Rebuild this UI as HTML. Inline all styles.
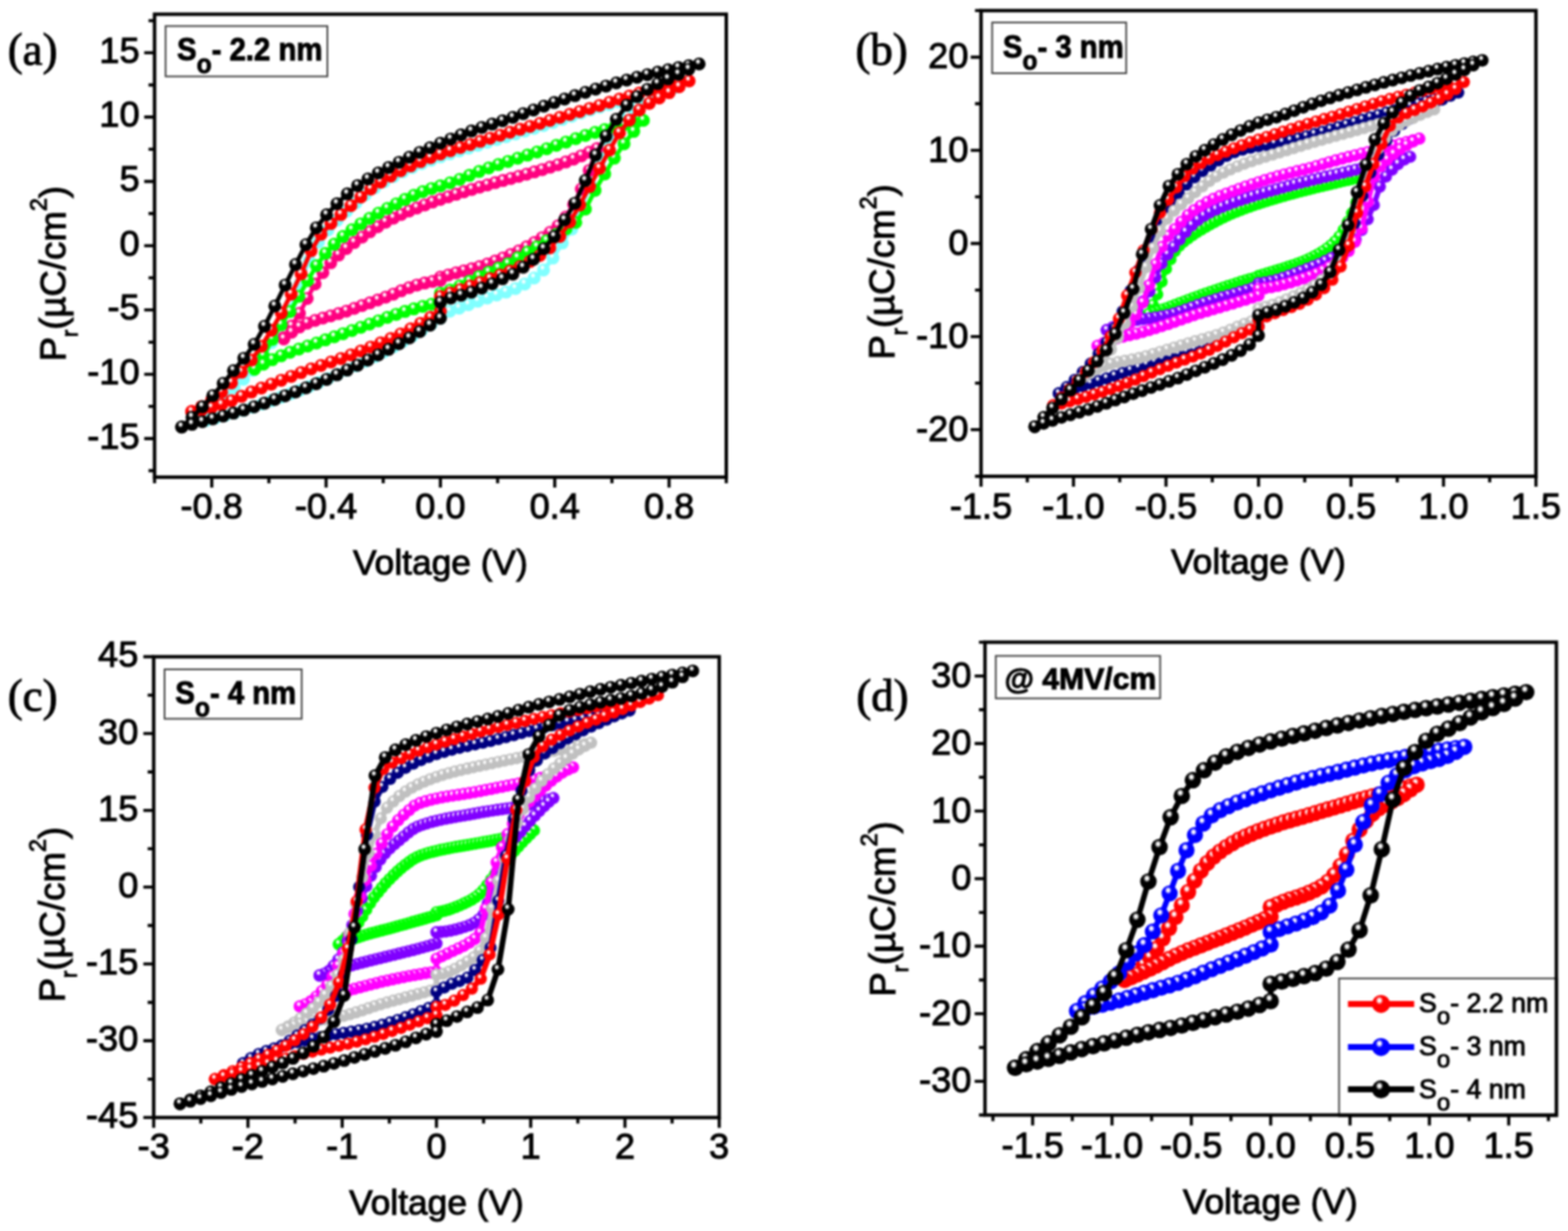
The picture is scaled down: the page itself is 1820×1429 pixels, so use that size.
<!DOCTYPE html><html><head><meta charset="utf-8"><title>P-V hysteresis loops</title><style>html,body{margin:0;padding:0;background:#fff;width:1820px;height:1429px;overflow:hidden}svg{display:block}text{stroke:#000;stroke-width:1.1px}#w{filter:blur(0.8px)}</style></head><body><div id="w"><svg xmlns="http://www.w3.org/2000/svg" width="1820" height="1429" viewBox="0 0 1820 1429"><defs><radialGradient id="hl"><stop offset="0" stop-color="#fff"/><stop offset="0.35" stop-color="#fff"/><stop offset="1" stop-color="#fff" stop-opacity="0"/></radialGradient><g id="m0"><circle r="7.5" fill="#80ffff"/><ellipse cx="-1.35" cy="-2.85" rx="3.1" ry="3.41" fill="url(#hl)"/></g><g id="m1"><circle r="7.5" fill="#ff0080"/><ellipse cx="-1.35" cy="-2.85" rx="3.1" ry="3.41" fill="url(#hl)"/></g><g id="m2"><circle r="7.5" fill="#00ff00"/><ellipse cx="-1.35" cy="-2.85" rx="3.1" ry="3.41" fill="url(#hl)"/></g><g id="m3"><circle r="7.5" fill="#ff0000"/><ellipse cx="-1.35" cy="-2.85" rx="3.1" ry="3.41" fill="url(#hl)"/></g><g id="m4"><circle r="7.5" fill="#000000"/><ellipse cx="-1.35" cy="-2.85" rx="3.3" ry="3.63" fill="url(#hl)"/></g><g id="m5"><circle r="7.1" fill="#00ff00"/><ellipse cx="-1.28" cy="-2.70" rx="2.9" ry="3.19" fill="url(#hl)"/></g><g id="m6"><circle r="7.1" fill="#8000ff"/><ellipse cx="-1.28" cy="-2.70" rx="2.9" ry="3.19" fill="url(#hl)"/></g><g id="m7"><circle r="7.1" fill="#ff00ff"/><ellipse cx="-1.28" cy="-2.70" rx="2.9" ry="3.19" fill="url(#hl)"/></g><g id="m8"><circle r="7.1" fill="#000080"/><ellipse cx="-1.28" cy="-2.70" rx="2.9" ry="3.19" fill="url(#hl)"/></g><g id="m9"><circle r="7.1" fill="#c0c0c0"/><ellipse cx="-1.28" cy="-2.70" rx="2.9" ry="3.19" fill="url(#hl)"/></g><g id="m10"><circle r="7.1" fill="#ff0000"/><ellipse cx="-1.28" cy="-2.70" rx="2.9" ry="3.19" fill="url(#hl)"/></g><g id="m11"><circle r="7.4" fill="#000000"/><ellipse cx="-1.33" cy="-2.81" rx="3.2" ry="3.52" fill="url(#hl)"/></g><g id="m12"><circle r="9.4" fill="#ff0000"/><ellipse cx="-1.69" cy="-3.57" rx="4.0" ry="4.40" fill="url(#hl)"/></g><g id="m13"><circle r="9.4" fill="#0000ff"/><ellipse cx="-1.69" cy="-3.57" rx="4.0" ry="4.40" fill="url(#hl)"/></g><g id="m14"><circle r="9.6" fill="#000000"/><ellipse cx="-1.73" cy="-3.65" rx="4.2" ry="4.62" fill="url(#hl)"/></g><g id="m15"><circle r="10.5" fill="#ff0000"/><ellipse cx="-1.89" cy="-3.99" rx="4.4" ry="4.84" fill="url(#hl)"/></g><g id="m16"><circle r="10.5" fill="#0000ff"/><ellipse cx="-1.89" cy="-3.99" rx="4.4" ry="4.84" fill="url(#hl)"/></g><g id="m17"><circle r="10.5" fill="#000000"/><ellipse cx="-1.89" cy="-3.99" rx="4.4" ry="4.84" fill="url(#hl)"/></g></defs><rect width="1820" height="1429" fill="#fff"/><g style="font-family:'Liberation Sans',Arial,sans-serif;font-size:42px" fill="#000">
<polyline points="239.1,476.3 250.0,468.2 260.9,459.6 271.8,450.3 282.7,440.3 293.5,430.0 304.4,418.0 315.3,397.7 326.2,375.0 337.1,352.7 348.0,329.2 358.8,302.5 369.7,280.9 380.6,266.9 391.5,255.6 402.4,245.3 413.3,235.4 424.1,226.3 435.0,218.1 445.9,211.0 456.8,204.9 467.7,199.4 478.6,194.5 489.4,190.0 500.3,185.9 511.2,182.1 522.1,178.6 533.0,175.3 543.8,172.0 554.7,168.7 565.6,165.3 576.5,162.0 587.4,158.8 598.3,155.5 609.1,152.3 620.0,149.0 630.9,145.7 641.8,142.2 652.7,138.6 663.6,134.9 674.4,131.3 685.3,127.8 696.2,124.5 707.1,121.4 718.0,118.3 728.9,115.3 739.7,112.4 750.6,109.5 761.5,106.8 772.4,104.1 783.3,101.6 772.4,104.5 761.5,109.6 750.6,116.2 739.7,123.7 728.9,134.0 718.0,147.3 707.1,163.6 696.2,187.4 685.3,214.2 674.4,241.8 663.6,265.9 652.7,282.1 641.8,299.6 630.9,313.4 620.0,322.7 609.1,329.8 598.3,335.0 587.4,339.1 576.5,342.5 565.6,345.9 554.7,349.7 543.8,353.7 533.0,357.7 522.1,361.3 511.2,364.3 511.2,369.5 500.3,376.7 489.4,383.6 478.6,390.2 467.7,396.5 456.8,402.6 445.9,408.4 435.0,414.1 424.1,419.5 413.3,424.8 402.4,430.0 391.5,434.9 380.6,439.7 369.7,444.3 358.8,448.7 348.0,453.0 337.1,457.1 326.2,461.1 315.3,465.1 304.4,469.0 293.5,472.7 282.7,476.2 271.8,479.4 260.9,482.5 250.0,485.5 239.1,488.2" fill="none" stroke="#80ffff" stroke-width="5.0" stroke-linejoin="round"/>
<use href="#m0" x="239.1" y="476.3"/>
<use href="#m0" x="250.0" y="468.2"/>
<use href="#m0" x="260.9" y="459.6"/>
<use href="#m0" x="271.8" y="450.3"/>
<use href="#m0" x="282.7" y="440.3"/>
<use href="#m0" x="293.5" y="430.0"/>
<use href="#m0" x="304.4" y="418.0"/>
<use href="#m0" x="315.3" y="397.7"/>
<use href="#m0" x="326.2" y="375.0"/>
<use href="#m0" x="337.1" y="352.7"/>
<use href="#m0" x="348.0" y="329.2"/>
<use href="#m0" x="358.8" y="302.5"/>
<use href="#m0" x="369.7" y="280.9"/>
<use href="#m0" x="380.6" y="266.9"/>
<use href="#m0" x="391.5" y="255.6"/>
<use href="#m0" x="402.4" y="245.3"/>
<use href="#m0" x="413.3" y="235.4"/>
<use href="#m0" x="424.1" y="226.3"/>
<use href="#m0" x="435.0" y="218.1"/>
<use href="#m0" x="445.9" y="211.0"/>
<use href="#m0" x="456.8" y="204.9"/>
<use href="#m0" x="467.7" y="199.4"/>
<use href="#m0" x="478.6" y="194.5"/>
<use href="#m0" x="489.4" y="190.0"/>
<use href="#m0" x="500.3" y="185.9"/>
<use href="#m0" x="511.2" y="182.1"/>
<use href="#m0" x="522.1" y="178.6"/>
<use href="#m0" x="533.0" y="175.3"/>
<use href="#m0" x="543.8" y="172.0"/>
<use href="#m0" x="554.7" y="168.7"/>
<use href="#m0" x="565.6" y="165.3"/>
<use href="#m0" x="576.5" y="162.0"/>
<use href="#m0" x="587.4" y="158.8"/>
<use href="#m0" x="598.3" y="155.5"/>
<use href="#m0" x="609.1" y="152.3"/>
<use href="#m0" x="620.0" y="149.0"/>
<use href="#m0" x="630.9" y="145.7"/>
<use href="#m0" x="641.8" y="142.2"/>
<use href="#m0" x="652.7" y="138.6"/>
<use href="#m0" x="663.6" y="134.9"/>
<use href="#m0" x="674.4" y="131.3"/>
<use href="#m0" x="685.3" y="127.8"/>
<use href="#m0" x="696.2" y="124.5"/>
<use href="#m0" x="707.1" y="121.4"/>
<use href="#m0" x="718.0" y="118.3"/>
<use href="#m0" x="728.9" y="115.3"/>
<use href="#m0" x="739.7" y="112.4"/>
<use href="#m0" x="750.6" y="109.5"/>
<use href="#m0" x="761.5" y="106.8"/>
<use href="#m0" x="772.4" y="104.1"/>
<use href="#m0" x="783.3" y="101.6"/>
<use href="#m0" x="772.4" y="104.5"/>
<use href="#m0" x="761.5" y="109.6"/>
<use href="#m0" x="750.6" y="116.2"/>
<use href="#m0" x="739.7" y="123.7"/>
<use href="#m0" x="728.9" y="134.0"/>
<use href="#m0" x="718.0" y="147.3"/>
<use href="#m0" x="707.1" y="163.6"/>
<use href="#m0" x="696.2" y="187.4"/>
<use href="#m0" x="685.3" y="214.2"/>
<use href="#m0" x="674.4" y="241.8"/>
<use href="#m0" x="663.6" y="265.9"/>
<use href="#m0" x="652.7" y="282.1"/>
<use href="#m0" x="641.8" y="299.6"/>
<use href="#m0" x="630.9" y="313.4"/>
<use href="#m0" x="620.0" y="322.7"/>
<use href="#m0" x="609.1" y="329.8"/>
<use href="#m0" x="598.3" y="335.0"/>
<use href="#m0" x="587.4" y="339.1"/>
<use href="#m0" x="576.5" y="342.5"/>
<use href="#m0" x="565.6" y="345.9"/>
<use href="#m0" x="554.7" y="349.7"/>
<use href="#m0" x="543.8" y="353.7"/>
<use href="#m0" x="533.0" y="357.7"/>
<use href="#m0" x="522.1" y="361.3"/>
<use href="#m0" x="511.2" y="364.3"/>
<use href="#m0" x="511.2" y="369.5"/>
<use href="#m0" x="500.3" y="376.7"/>
<use href="#m0" x="489.4" y="383.6"/>
<use href="#m0" x="478.6" y="390.2"/>
<use href="#m0" x="467.7" y="396.5"/>
<use href="#m0" x="456.8" y="402.6"/>
<use href="#m0" x="445.9" y="408.4"/>
<use href="#m0" x="435.0" y="414.1"/>
<use href="#m0" x="424.1" y="419.5"/>
<use href="#m0" x="413.3" y="424.8"/>
<use href="#m0" x="402.4" y="430.0"/>
<use href="#m0" x="391.5" y="434.9"/>
<use href="#m0" x="380.6" y="439.7"/>
<use href="#m0" x="369.7" y="444.3"/>
<use href="#m0" x="358.8" y="448.7"/>
<use href="#m0" x="348.0" y="453.0"/>
<use href="#m0" x="337.1" y="457.1"/>
<use href="#m0" x="326.2" y="461.1"/>
<use href="#m0" x="315.3" y="465.1"/>
<use href="#m0" x="304.4" y="469.0"/>
<use href="#m0" x="293.5" y="472.7"/>
<use href="#m0" x="282.7" y="476.2"/>
<use href="#m0" x="271.8" y="479.4"/>
<use href="#m0" x="260.9" y="482.5"/>
<use href="#m0" x="250.0" y="485.5"/>
<use href="#m0" x="239.1" y="488.2"/>
<polyline points="329.4,391.9 338.5,378.5 347.6,363.8 356.6,346.4 365.7,329.8 374.8,316.4 383.9,305.1 393.0,296.1 402.1,288.4 411.2,281.6 420.3,275.2 429.4,269.1 438.5,263.3 447.6,258.0 456.7,253.3 465.7,249.0 474.8,245.0 483.9,241.4 493.0,237.9 502.1,234.6 511.2,231.5 520.3,228.5 529.4,225.6 538.5,222.8 547.6,220.0 556.7,217.3 565.7,214.7 574.8,212.1 583.9,209.6 593.0,207.2 602.1,204.7 611.2,202.2 620.3,199.6 629.4,196.9 638.5,194.1 647.6,191.2 656.7,188.1 665.8,184.7 674.8,180.9 683.9,176.8 693.0,172.5 683.9,197.9 674.8,219.5 665.8,237.3 656.7,252.0 647.6,262.2 638.5,269.7 629.4,275.9 620.3,281.5 611.2,286.6 602.1,291.2 593.0,295.4 583.9,299.4 574.8,303.1 565.7,306.5 556.7,309.5 547.6,312.1 538.5,314.4 529.4,316.7 520.3,319.2 511.2,321.8 511.2,325.5 502.1,326.8 493.0,328.6 483.9,330.9 474.8,334.0 465.7,337.6 456.7,341.4 447.6,345.0 438.5,348.3 429.4,351.6 420.3,354.8 411.2,358.0 402.1,361.2 393.0,364.1 383.9,366.7 374.8,369.2 365.7,372.0 356.6,375.3 347.6,379.6 338.5,385.8 329.4,393.4" fill="none" stroke="#ff0080" stroke-width="5.0" stroke-linejoin="round"/>
<use href="#m1" x="329.4" y="391.9"/>
<use href="#m1" x="338.5" y="378.5"/>
<use href="#m1" x="347.6" y="363.8"/>
<use href="#m1" x="356.6" y="346.4"/>
<use href="#m1" x="365.7" y="329.8"/>
<use href="#m1" x="374.8" y="316.4"/>
<use href="#m1" x="383.9" y="305.1"/>
<use href="#m1" x="393.0" y="296.1"/>
<use href="#m1" x="402.1" y="288.4"/>
<use href="#m1" x="411.2" y="281.6"/>
<use href="#m1" x="420.3" y="275.2"/>
<use href="#m1" x="429.4" y="269.1"/>
<use href="#m1" x="438.5" y="263.3"/>
<use href="#m1" x="447.6" y="258.0"/>
<use href="#m1" x="456.7" y="253.3"/>
<use href="#m1" x="465.7" y="249.0"/>
<use href="#m1" x="474.8" y="245.0"/>
<use href="#m1" x="483.9" y="241.4"/>
<use href="#m1" x="493.0" y="237.9"/>
<use href="#m1" x="502.1" y="234.6"/>
<use href="#m1" x="511.2" y="231.5"/>
<use href="#m1" x="520.3" y="228.5"/>
<use href="#m1" x="529.4" y="225.6"/>
<use href="#m1" x="538.5" y="222.8"/>
<use href="#m1" x="547.6" y="220.0"/>
<use href="#m1" x="556.7" y="217.3"/>
<use href="#m1" x="565.7" y="214.7"/>
<use href="#m1" x="574.8" y="212.1"/>
<use href="#m1" x="583.9" y="209.6"/>
<use href="#m1" x="593.0" y="207.2"/>
<use href="#m1" x="602.1" y="204.7"/>
<use href="#m1" x="611.2" y="202.2"/>
<use href="#m1" x="620.3" y="199.6"/>
<use href="#m1" x="629.4" y="196.9"/>
<use href="#m1" x="638.5" y="194.1"/>
<use href="#m1" x="647.6" y="191.2"/>
<use href="#m1" x="656.7" y="188.1"/>
<use href="#m1" x="665.8" y="184.7"/>
<use href="#m1" x="674.8" y="180.9"/>
<use href="#m1" x="683.9" y="176.8"/>
<use href="#m1" x="693.0" y="172.5"/>
<use href="#m1" x="683.9" y="197.9"/>
<use href="#m1" x="674.8" y="219.5"/>
<use href="#m1" x="665.8" y="237.3"/>
<use href="#m1" x="656.7" y="252.0"/>
<use href="#m1" x="647.6" y="262.2"/>
<use href="#m1" x="638.5" y="269.7"/>
<use href="#m1" x="629.4" y="275.9"/>
<use href="#m1" x="620.3" y="281.5"/>
<use href="#m1" x="611.2" y="286.6"/>
<use href="#m1" x="602.1" y="291.2"/>
<use href="#m1" x="593.0" y="295.4"/>
<use href="#m1" x="583.9" y="299.4"/>
<use href="#m1" x="574.8" y="303.1"/>
<use href="#m1" x="565.7" y="306.5"/>
<use href="#m1" x="556.7" y="309.5"/>
<use href="#m1" x="547.6" y="312.1"/>
<use href="#m1" x="538.5" y="314.4"/>
<use href="#m1" x="529.4" y="316.7"/>
<use href="#m1" x="520.3" y="319.2"/>
<use href="#m1" x="511.2" y="321.8"/>
<use href="#m1" x="511.2" y="325.5"/>
<use href="#m1" x="502.1" y="326.8"/>
<use href="#m1" x="493.0" y="328.6"/>
<use href="#m1" x="483.9" y="330.9"/>
<use href="#m1" x="474.8" y="334.0"/>
<use href="#m1" x="465.7" y="337.6"/>
<use href="#m1" x="456.7" y="341.4"/>
<use href="#m1" x="447.6" y="345.0"/>
<use href="#m1" x="438.5" y="348.3"/>
<use href="#m1" x="429.4" y="351.6"/>
<use href="#m1" x="420.3" y="354.8"/>
<use href="#m1" x="411.2" y="358.0"/>
<use href="#m1" x="402.1" y="361.2"/>
<use href="#m1" x="393.0" y="364.1"/>
<use href="#m1" x="383.9" y="366.7"/>
<use href="#m1" x="374.8" y="369.2"/>
<use href="#m1" x="365.7" y="372.0"/>
<use href="#m1" x="356.6" y="375.3"/>
<use href="#m1" x="347.6" y="379.6"/>
<use href="#m1" x="338.5" y="385.8"/>
<use href="#m1" x="329.4" y="393.4"/>
<polyline points="295.5,428.5 305.8,413.1 316.1,393.9 326.3,377.1 336.6,361.8 346.9,344.0 357.1,325.7 367.4,308.5 377.7,294.3 388.0,283.6 398.2,274.6 408.5,266.8 418.8,259.9 429.0,253.5 439.3,247.5 449.6,242.0 459.9,236.7 470.1,231.6 480.4,226.8 490.7,222.5 500.9,218.9 511.2,215.8 522.4,212.3 533.6,208.2 544.9,203.6 556.1,199.1 567.3,195.0 578.5,191.1 589.7,187.4 600.9,183.8 612.2,180.1 623.4,176.5 634.6,172.7 645.8,168.8 657.0,164.9 668.3,161.0 679.5,157.2 690.7,153.7 701.9,150.5 713.1,147.5 724.3,144.7 735.6,142.1 746.8,139.7 735.6,152.6 724.3,166.9 713.1,183.6 701.9,201.9 690.7,220.9 679.5,242.8 668.3,258.2 657.0,265.8 645.8,272.1 634.6,279.4 623.4,286.6 612.2,292.7 600.9,299.3 589.7,306.2 578.5,311.3 567.3,315.9 556.1,320.9 544.9,326.5 533.6,332.0 522.4,336.7 511.2,340.4 511.2,350.9 500.9,353.2 490.7,355.8 480.4,358.6 470.1,361.6 459.9,364.9 449.6,368.5 439.3,372.4 429.0,376.3 418.8,380.0 408.5,383.7 398.2,387.4 388.0,391.0 377.7,394.6 367.4,398.3 357.1,401.8 346.9,405.3 336.6,409.0 326.3,413.1 316.1,417.6 305.8,422.8 295.5,428.5" fill="none" stroke="#00ff00" stroke-width="5.0" stroke-linejoin="round"/>
<use href="#m2" x="295.5" y="428.5"/>
<use href="#m2" x="305.8" y="413.1"/>
<use href="#m2" x="316.1" y="393.9"/>
<use href="#m2" x="326.3" y="377.1"/>
<use href="#m2" x="336.6" y="361.8"/>
<use href="#m2" x="346.9" y="344.0"/>
<use href="#m2" x="357.1" y="325.7"/>
<use href="#m2" x="367.4" y="308.5"/>
<use href="#m2" x="377.7" y="294.3"/>
<use href="#m2" x="388.0" y="283.6"/>
<use href="#m2" x="398.2" y="274.6"/>
<use href="#m2" x="408.5" y="266.8"/>
<use href="#m2" x="418.8" y="259.9"/>
<use href="#m2" x="429.0" y="253.5"/>
<use href="#m2" x="439.3" y="247.5"/>
<use href="#m2" x="449.6" y="242.0"/>
<use href="#m2" x="459.9" y="236.7"/>
<use href="#m2" x="470.1" y="231.6"/>
<use href="#m2" x="480.4" y="226.8"/>
<use href="#m2" x="490.7" y="222.5"/>
<use href="#m2" x="500.9" y="218.9"/>
<use href="#m2" x="511.2" y="215.8"/>
<use href="#m2" x="522.4" y="212.3"/>
<use href="#m2" x="533.6" y="208.2"/>
<use href="#m2" x="544.9" y="203.6"/>
<use href="#m2" x="556.1" y="199.1"/>
<use href="#m2" x="567.3" y="195.0"/>
<use href="#m2" x="578.5" y="191.1"/>
<use href="#m2" x="589.7" y="187.4"/>
<use href="#m2" x="600.9" y="183.8"/>
<use href="#m2" x="612.2" y="180.1"/>
<use href="#m2" x="623.4" y="176.5"/>
<use href="#m2" x="634.6" y="172.7"/>
<use href="#m2" x="645.8" y="168.8"/>
<use href="#m2" x="657.0" y="164.9"/>
<use href="#m2" x="668.3" y="161.0"/>
<use href="#m2" x="679.5" y="157.2"/>
<use href="#m2" x="690.7" y="153.7"/>
<use href="#m2" x="701.9" y="150.5"/>
<use href="#m2" x="713.1" y="147.5"/>
<use href="#m2" x="724.3" y="144.7"/>
<use href="#m2" x="735.6" y="142.1"/>
<use href="#m2" x="746.8" y="139.7"/>
<use href="#m2" x="735.6" y="152.6"/>
<use href="#m2" x="724.3" y="166.9"/>
<use href="#m2" x="713.1" y="183.6"/>
<use href="#m2" x="701.9" y="201.9"/>
<use href="#m2" x="690.7" y="220.9"/>
<use href="#m2" x="679.5" y="242.8"/>
<use href="#m2" x="668.3" y="258.2"/>
<use href="#m2" x="657.0" y="265.8"/>
<use href="#m2" x="645.8" y="272.1"/>
<use href="#m2" x="634.6" y="279.4"/>
<use href="#m2" x="623.4" y="286.6"/>
<use href="#m2" x="612.2" y="292.7"/>
<use href="#m2" x="600.9" y="299.3"/>
<use href="#m2" x="589.7" y="306.2"/>
<use href="#m2" x="578.5" y="311.3"/>
<use href="#m2" x="567.3" y="315.9"/>
<use href="#m2" x="556.1" y="320.9"/>
<use href="#m2" x="544.9" y="326.5"/>
<use href="#m2" x="533.6" y="332.0"/>
<use href="#m2" x="522.4" y="336.7"/>
<use href="#m2" x="511.2" y="340.4"/>
<use href="#m2" x="511.2" y="350.9"/>
<use href="#m2" x="500.9" y="353.2"/>
<use href="#m2" x="490.7" y="355.8"/>
<use href="#m2" x="480.4" y="358.6"/>
<use href="#m2" x="470.1" y="361.6"/>
<use href="#m2" x="459.9" y="364.9"/>
<use href="#m2" x="449.6" y="368.5"/>
<use href="#m2" x="439.3" y="372.4"/>
<use href="#m2" x="429.0" y="376.3"/>
<use href="#m2" x="418.8" y="380.0"/>
<use href="#m2" x="408.5" y="383.7"/>
<use href="#m2" x="398.2" y="387.4"/>
<use href="#m2" x="388.0" y="391.0"/>
<use href="#m2" x="377.7" y="394.6"/>
<use href="#m2" x="367.4" y="398.3"/>
<use href="#m2" x="357.1" y="401.8"/>
<use href="#m2" x="346.9" y="405.3"/>
<use href="#m2" x="336.6" y="409.0"/>
<use href="#m2" x="326.3" y="413.1"/>
<use href="#m2" x="316.1" y="417.6"/>
<use href="#m2" x="305.8" y="422.8"/>
<use href="#m2" x="295.5" y="428.5"/>
<polyline points="222.5,477.8 234.1,471.9 245.6,464.4 257.2,455.3 268.7,444.4 280.3,432.1 291.8,418.0 303.4,401.9 314.9,383.4 326.5,363.4 338.0,341.5 349.5,317.9 361.1,291.1 372.6,272.0 384.2,259.5 395.7,249.1 407.3,238.7 418.8,228.7 430.4,219.5 441.9,211.4 453.5,204.4 465.0,198.2 476.6,192.6 488.1,187.6 499.7,183.0 511.2,178.8 522.7,175.0 534.3,171.3 545.8,167.7 557.4,164.1 568.9,160.5 580.5,157.0 592.0,153.5 603.6,150.1 615.1,146.7 626.7,143.2 638.2,139.8 649.8,136.3 661.3,132.8 672.9,129.4 684.4,125.9 695.9,122.4 707.5,118.8 719.0,115.1 730.6,111.5 742.1,108.1 753.7,105.0 765.2,102.0 776.8,99.2 788.3,96.5 799.9,94.0 788.3,100.8 776.8,107.6 765.2,113.7 753.7,119.9 742.1,127.8 730.6,139.4 719.0,154.2 707.5,174.2 695.9,195.5 684.4,216.6 672.9,237.9 661.3,257.8 649.8,274.5 638.2,287.7 626.7,296.5 615.1,303.6 603.6,309.6 592.0,314.7 580.5,319.3 568.9,323.6 557.4,327.9 545.8,332.1 534.3,336.3 522.7,340.3 511.2,344.2 511.2,361.3 499.7,368.6 488.1,375.4 476.6,381.8 465.0,387.7 453.5,393.1 441.9,398.1 430.4,402.9 418.8,407.5 407.3,412.0 395.7,416.2 384.2,420.3 372.6,424.3 361.1,428.3 349.5,432.6 338.0,436.9 326.5,441.4 314.9,446.0 303.4,450.5 291.8,455.1 280.3,460.1 268.7,465.2 257.2,469.8 245.6,473.3 234.1,475.9 222.5,477.8" fill="none" stroke="#ff0000" stroke-width="5.0" stroke-linejoin="round"/>
<use href="#m3" x="222.5" y="477.8"/>
<use href="#m3" x="234.1" y="471.9"/>
<use href="#m3" x="245.6" y="464.4"/>
<use href="#m3" x="257.2" y="455.3"/>
<use href="#m3" x="268.7" y="444.4"/>
<use href="#m3" x="280.3" y="432.1"/>
<use href="#m3" x="291.8" y="418.0"/>
<use href="#m3" x="303.4" y="401.9"/>
<use href="#m3" x="314.9" y="383.4"/>
<use href="#m3" x="326.5" y="363.4"/>
<use href="#m3" x="338.0" y="341.5"/>
<use href="#m3" x="349.5" y="317.9"/>
<use href="#m3" x="361.1" y="291.1"/>
<use href="#m3" x="372.6" y="272.0"/>
<use href="#m3" x="384.2" y="259.5"/>
<use href="#m3" x="395.7" y="249.1"/>
<use href="#m3" x="407.3" y="238.7"/>
<use href="#m3" x="418.8" y="228.7"/>
<use href="#m3" x="430.4" y="219.5"/>
<use href="#m3" x="441.9" y="211.4"/>
<use href="#m3" x="453.5" y="204.4"/>
<use href="#m3" x="465.0" y="198.2"/>
<use href="#m3" x="476.6" y="192.6"/>
<use href="#m3" x="488.1" y="187.6"/>
<use href="#m3" x="499.7" y="183.0"/>
<use href="#m3" x="511.2" y="178.8"/>
<use href="#m3" x="522.7" y="175.0"/>
<use href="#m3" x="534.3" y="171.3"/>
<use href="#m3" x="545.8" y="167.7"/>
<use href="#m3" x="557.4" y="164.1"/>
<use href="#m3" x="568.9" y="160.5"/>
<use href="#m3" x="580.5" y="157.0"/>
<use href="#m3" x="592.0" y="153.5"/>
<use href="#m3" x="603.6" y="150.1"/>
<use href="#m3" x="615.1" y="146.7"/>
<use href="#m3" x="626.7" y="143.2"/>
<use href="#m3" x="638.2" y="139.8"/>
<use href="#m3" x="649.8" y="136.3"/>
<use href="#m3" x="661.3" y="132.8"/>
<use href="#m3" x="672.9" y="129.4"/>
<use href="#m3" x="684.4" y="125.9"/>
<use href="#m3" x="695.9" y="122.4"/>
<use href="#m3" x="707.5" y="118.8"/>
<use href="#m3" x="719.0" y="115.1"/>
<use href="#m3" x="730.6" y="111.5"/>
<use href="#m3" x="742.1" y="108.1"/>
<use href="#m3" x="753.7" y="105.0"/>
<use href="#m3" x="765.2" y="102.0"/>
<use href="#m3" x="776.8" y="99.2"/>
<use href="#m3" x="788.3" y="96.5"/>
<use href="#m3" x="799.9" y="94.0"/>
<use href="#m3" x="788.3" y="100.8"/>
<use href="#m3" x="776.8" y="107.6"/>
<use href="#m3" x="765.2" y="113.7"/>
<use href="#m3" x="753.7" y="119.9"/>
<use href="#m3" x="742.1" y="127.8"/>
<use href="#m3" x="730.6" y="139.4"/>
<use href="#m3" x="719.0" y="154.2"/>
<use href="#m3" x="707.5" y="174.2"/>
<use href="#m3" x="695.9" y="195.5"/>
<use href="#m3" x="684.4" y="216.6"/>
<use href="#m3" x="672.9" y="237.9"/>
<use href="#m3" x="661.3" y="257.8"/>
<use href="#m3" x="649.8" y="274.5"/>
<use href="#m3" x="638.2" y="287.7"/>
<use href="#m3" x="626.7" y="296.5"/>
<use href="#m3" x="615.1" y="303.6"/>
<use href="#m3" x="603.6" y="309.6"/>
<use href="#m3" x="592.0" y="314.7"/>
<use href="#m3" x="580.5" y="319.3"/>
<use href="#m3" x="568.9" y="323.6"/>
<use href="#m3" x="557.4" y="327.9"/>
<use href="#m3" x="545.8" y="332.1"/>
<use href="#m3" x="534.3" y="336.3"/>
<use href="#m3" x="522.7" y="340.3"/>
<use href="#m3" x="511.2" y="344.2"/>
<use href="#m3" x="511.2" y="361.3"/>
<use href="#m3" x="499.7" y="368.6"/>
<use href="#m3" x="488.1" y="375.4"/>
<use href="#m3" x="476.6" y="381.8"/>
<use href="#m3" x="465.0" y="387.7"/>
<use href="#m3" x="453.5" y="393.1"/>
<use href="#m3" x="441.9" y="398.1"/>
<use href="#m3" x="430.4" y="402.9"/>
<use href="#m3" x="418.8" y="407.5"/>
<use href="#m3" x="407.3" y="412.0"/>
<use href="#m3" x="395.7" y="416.2"/>
<use href="#m3" x="384.2" y="420.3"/>
<use href="#m3" x="372.6" y="424.3"/>
<use href="#m3" x="361.1" y="428.3"/>
<use href="#m3" x="349.5" y="432.6"/>
<use href="#m3" x="338.0" y="436.9"/>
<use href="#m3" x="326.5" y="441.4"/>
<use href="#m3" x="314.9" y="446.0"/>
<use href="#m3" x="303.4" y="450.5"/>
<use href="#m3" x="291.8" y="455.1"/>
<use href="#m3" x="280.3" y="460.1"/>
<use href="#m3" x="268.7" y="465.2"/>
<use href="#m3" x="257.2" y="469.8"/>
<use href="#m3" x="245.6" y="473.3"/>
<use href="#m3" x="234.1" y="475.9"/>
<use href="#m3" x="222.5" y="477.8"/>
<polyline points="210.9,495.7 222.9,484.4 234.9,472.2 247.0,459.2 259.0,445.0 271.0,430.2 283.0,415.9 295.0,399.8 307.0,378.7 319.0,355.2 331.0,330.9 343.0,307.1 355.1,284.0 367.1,264.4 379.1,249.3 391.1,236.5 403.1,225.1 415.1,215.4 427.1,207.7 439.1,200.8 451.1,194.4 463.2,188.4 475.2,182.5 487.2,176.9 499.2,171.5 511.2,166.3 523.2,161.4 535.2,156.6 547.2,152.1 559.2,148.0 571.3,144.1 583.3,140.3 595.3,136.3 607.3,132.0 619.3,127.7 631.3,123.3 643.3,119.1 655.3,115.0 667.3,111.1 679.4,107.2 691.4,103.5 703.4,99.9 715.4,96.3 727.4,93.0 739.4,89.8 751.4,86.7 763.4,83.8 775.4,81.0 787.5,78.5 799.5,76.3 811.5,74.3 799.5,80.4 787.5,86.2 775.4,91.6 763.4,97.1 751.4,103.8 739.4,112.2 727.4,122.2 715.4,138.6 703.4,157.9 691.4,180.1 679.4,209.6 667.3,235.9 655.3,255.3 643.3,274.6 631.3,288.7 619.3,301.0 607.3,310.3 595.3,318.2 583.3,323.6 571.3,329.5 559.2,334.5 547.2,339.2 535.2,342.7 523.2,345.9 511.2,350.9 511.2,369.5 499.2,377.4 487.2,385.0 475.2,392.2 463.2,399.0 451.1,405.6 439.1,412.0 427.1,418.0 415.1,423.9 403.1,429.6 391.1,435.1 379.1,440.4 367.1,445.4 355.1,450.2 343.0,454.9 331.0,459.4 319.0,463.8 307.0,468.1 295.0,472.2 283.0,476.1 271.0,479.6 259.0,483.0 247.0,486.2 234.9,489.4 222.9,492.6 210.9,495.7" fill="none" stroke="#000000" stroke-width="5.0" stroke-linejoin="round"/>
<use href="#m4" x="210.9" y="495.7"/>
<use href="#m4" x="222.9" y="484.4"/>
<use href="#m4" x="234.9" y="472.2"/>
<use href="#m4" x="247.0" y="459.2"/>
<use href="#m4" x="259.0" y="445.0"/>
<use href="#m4" x="271.0" y="430.2"/>
<use href="#m4" x="283.0" y="415.9"/>
<use href="#m4" x="295.0" y="399.8"/>
<use href="#m4" x="307.0" y="378.7"/>
<use href="#m4" x="319.0" y="355.2"/>
<use href="#m4" x="331.0" y="330.9"/>
<use href="#m4" x="343.0" y="307.1"/>
<use href="#m4" x="355.1" y="284.0"/>
<use href="#m4" x="367.1" y="264.4"/>
<use href="#m4" x="379.1" y="249.3"/>
<use href="#m4" x="391.1" y="236.5"/>
<use href="#m4" x="403.1" y="225.1"/>
<use href="#m4" x="415.1" y="215.4"/>
<use href="#m4" x="427.1" y="207.7"/>
<use href="#m4" x="439.1" y="200.8"/>
<use href="#m4" x="451.1" y="194.4"/>
<use href="#m4" x="463.2" y="188.4"/>
<use href="#m4" x="475.2" y="182.5"/>
<use href="#m4" x="487.2" y="176.9"/>
<use href="#m4" x="499.2" y="171.5"/>
<use href="#m4" x="511.2" y="166.3"/>
<use href="#m4" x="523.2" y="161.4"/>
<use href="#m4" x="535.2" y="156.6"/>
<use href="#m4" x="547.2" y="152.1"/>
<use href="#m4" x="559.2" y="148.0"/>
<use href="#m4" x="571.3" y="144.1"/>
<use href="#m4" x="583.3" y="140.3"/>
<use href="#m4" x="595.3" y="136.3"/>
<use href="#m4" x="607.3" y="132.0"/>
<use href="#m4" x="619.3" y="127.7"/>
<use href="#m4" x="631.3" y="123.3"/>
<use href="#m4" x="643.3" y="119.1"/>
<use href="#m4" x="655.3" y="115.0"/>
<use href="#m4" x="667.3" y="111.1"/>
<use href="#m4" x="679.4" y="107.2"/>
<use href="#m4" x="691.4" y="103.5"/>
<use href="#m4" x="703.4" y="99.9"/>
<use href="#m4" x="715.4" y="96.3"/>
<use href="#m4" x="727.4" y="93.0"/>
<use href="#m4" x="739.4" y="89.8"/>
<use href="#m4" x="751.4" y="86.7"/>
<use href="#m4" x="763.4" y="83.8"/>
<use href="#m4" x="775.4" y="81.0"/>
<use href="#m4" x="787.5" y="78.5"/>
<use href="#m4" x="799.5" y="76.3"/>
<use href="#m4" x="811.5" y="74.3"/>
<use href="#m4" x="799.5" y="80.4"/>
<use href="#m4" x="787.5" y="86.2"/>
<use href="#m4" x="775.4" y="91.6"/>
<use href="#m4" x="763.4" y="97.1"/>
<use href="#m4" x="751.4" y="103.8"/>
<use href="#m4" x="739.4" y="112.2"/>
<use href="#m4" x="727.4" y="122.2"/>
<use href="#m4" x="715.4" y="138.6"/>
<use href="#m4" x="703.4" y="157.9"/>
<use href="#m4" x="691.4" y="180.1"/>
<use href="#m4" x="679.4" y="209.6"/>
<use href="#m4" x="667.3" y="235.9"/>
<use href="#m4" x="655.3" y="255.3"/>
<use href="#m4" x="643.3" y="274.6"/>
<use href="#m4" x="631.3" y="288.7"/>
<use href="#m4" x="619.3" y="301.0"/>
<use href="#m4" x="607.3" y="310.3"/>
<use href="#m4" x="595.3" y="318.2"/>
<use href="#m4" x="583.3" y="323.6"/>
<use href="#m4" x="571.3" y="329.5"/>
<use href="#m4" x="559.2" y="334.5"/>
<use href="#m4" x="547.2" y="339.2"/>
<use href="#m4" x="535.2" y="342.7"/>
<use href="#m4" x="523.2" y="345.9"/>
<use href="#m4" x="511.2" y="350.9"/>
<use href="#m4" x="511.2" y="369.5"/>
<use href="#m4" x="499.2" y="377.4"/>
<use href="#m4" x="487.2" y="385.0"/>
<use href="#m4" x="475.2" y="392.2"/>
<use href="#m4" x="463.2" y="399.0"/>
<use href="#m4" x="451.1" y="405.6"/>
<use href="#m4" x="439.1" y="412.0"/>
<use href="#m4" x="427.1" y="418.0"/>
<use href="#m4" x="415.1" y="423.9"/>
<use href="#m4" x="403.1" y="429.6"/>
<use href="#m4" x="391.1" y="435.1"/>
<use href="#m4" x="379.1" y="440.4"/>
<use href="#m4" x="367.1" y="445.4"/>
<use href="#m4" x="355.1" y="450.2"/>
<use href="#m4" x="343.0" y="454.9"/>
<use href="#m4" x="331.0" y="459.4"/>
<use href="#m4" x="319.0" y="463.8"/>
<use href="#m4" x="307.0" y="468.1"/>
<use href="#m4" x="295.0" y="472.2"/>
<use href="#m4" x="283.0" y="476.1"/>
<use href="#m4" x="271.0" y="479.6"/>
<use href="#m4" x="259.0" y="483.0"/>
<use href="#m4" x="247.0" y="486.2"/>
<use href="#m4" x="234.9" y="489.4"/>
<use href="#m4" x="222.9" y="492.6"/>
<use href="#m4" x="210.9" y="495.7"/>
<rect x="179.4" y="16.5" width="663.6" height="537.4" fill="none" stroke="#000" stroke-width="4.0"/>
<path d="M245.8 553.9v12M378.5 553.9v12M511.2 553.9v12M643.9 553.9v12M776.6 553.9v12M179.4 553.9v7M312.1 553.9v7M444.8 553.9v7M577.6 553.9v7M710.3 553.9v7M843.0 553.9v7M179.4 509.1h-12M179.4 434.5h-12M179.4 359.8h-12M179.4 285.2h-12M179.4 210.6h-12M179.4 135.9h-12M179.4 61.3h-12M179.4 546.4h-7M179.4 471.8h-7M179.4 397.2h-7M179.4 322.5h-7M179.4 247.9h-7M179.4 173.2h-7M179.4 98.6h-7M179.4 24.0h-7" stroke="#000" stroke-width="3.6" fill="none"/>
<text x="245.8" y="601.5" text-anchor="middle">-0.8</text>
<text x="378.5" y="601.5" text-anchor="middle">-0.4</text>
<text x="511.2" y="601.5" text-anchor="middle">0.0</text>
<text x="643.9" y="601.5" text-anchor="middle">0.4</text>
<text x="776.6" y="601.5" text-anchor="middle">0.8</text>
<text x="162.0" y="520.6" text-anchor="end">-15</text>
<text x="162.0" y="446.0" text-anchor="end">-10</text>
<text x="162.0" y="371.3" text-anchor="end">-5</text>
<text x="162.0" y="296.7" text-anchor="end">0</text>
<text x="162.0" y="222.1" text-anchor="end">5</text>
<text x="162.0" y="147.4" text-anchor="end">10</text>
<text x="162.0" y="72.8" text-anchor="end">15</text>
</g>
<g style="font-family:'Liberation Sans',Arial,sans-serif;font-size:42px" fill="#000">
<polyline points="1333.0,364.8 1338.1,353.9 1343.2,341.7 1348.3,326.9 1353.4,312.1 1358.6,300.9 1363.7,291.6 1368.8,285.2 1373.9,280.6 1379.0,276.7 1384.1,273.0 1389.2,269.6 1394.3,266.5 1399.4,263.5 1404.5,260.6 1409.7,257.8 1414.8,255.1 1419.9,252.5 1425.0,250.1 1430.1,247.8 1435.2,245.7 1440.3,243.7 1445.4,241.7 1450.5,239.9 1455.6,238.1 1460.8,236.4 1465.7,234.8 1470.6,233.3 1475.6,231.7 1480.5,230.3 1485.4,228.8 1490.4,227.4 1495.3,226.0 1500.3,224.7 1505.2,223.3 1510.1,222.1 1515.1,220.8 1520.0,219.6 1524.9,218.3 1529.9,217.1 1534.8,215.9 1539.8,214.7 1544.7,213.6 1549.6,212.4 1554.6,211.2 1559.5,210.0 1564.5,208.9 1569.4,207.8 1574.3,206.7 1579.3,205.6 1584.2,204.5 1579.3,220.6 1574.3,235.0 1569.4,247.4 1564.5,257.7 1559.5,267.0 1554.6,274.8 1549.6,280.6 1544.7,285.1 1539.8,288.9 1534.8,292.3 1529.9,295.3 1524.9,297.9 1520.0,300.3 1515.1,302.5 1510.1,304.6 1505.2,306.4 1500.3,308.1 1495.3,309.7 1490.4,311.3 1485.4,312.8 1480.5,314.3 1475.6,315.8 1470.6,317.4 1465.7,318.9 1460.8,320.4 1460.8,321.5 1455.6,322.8 1450.5,324.2 1445.4,325.7 1440.3,327.2 1435.2,328.9 1430.1,330.5 1425.0,332.2 1419.9,333.9 1414.8,335.7 1409.7,337.4 1404.5,339.2 1399.4,340.9 1394.3,342.7 1389.2,344.6 1384.1,346.4 1379.0,348.3 1373.9,350.3 1368.8,352.2 1363.7,354.2 1358.6,356.1 1353.4,358.0 1348.3,359.7 1343.2,361.5 1338.1,363.1 1333.0,364.8" fill="none" stroke="#00ff00" stroke-width="6.0" stroke-linejoin="round"/>
<use href="#m5" x="1333.0" y="364.8"/>
<use href="#m5" x="1338.1" y="353.9"/>
<use href="#m5" x="1343.2" y="341.7"/>
<use href="#m5" x="1348.3" y="326.9"/>
<use href="#m5" x="1353.4" y="312.1"/>
<use href="#m5" x="1358.6" y="300.9"/>
<use href="#m5" x="1363.7" y="291.6"/>
<use href="#m5" x="1368.8" y="285.2"/>
<use href="#m5" x="1373.9" y="280.6"/>
<use href="#m5" x="1379.0" y="276.7"/>
<use href="#m5" x="1384.1" y="273.0"/>
<use href="#m5" x="1389.2" y="269.6"/>
<use href="#m5" x="1394.3" y="266.5"/>
<use href="#m5" x="1399.4" y="263.5"/>
<use href="#m5" x="1404.5" y="260.6"/>
<use href="#m5" x="1409.7" y="257.8"/>
<use href="#m5" x="1414.8" y="255.1"/>
<use href="#m5" x="1419.9" y="252.5"/>
<use href="#m5" x="1425.0" y="250.1"/>
<use href="#m5" x="1430.1" y="247.8"/>
<use href="#m5" x="1435.2" y="245.7"/>
<use href="#m5" x="1440.3" y="243.7"/>
<use href="#m5" x="1445.4" y="241.7"/>
<use href="#m5" x="1450.5" y="239.9"/>
<use href="#m5" x="1455.6" y="238.1"/>
<use href="#m5" x="1460.8" y="236.4"/>
<use href="#m5" x="1465.7" y="234.8"/>
<use href="#m5" x="1470.6" y="233.3"/>
<use href="#m5" x="1475.6" y="231.7"/>
<use href="#m5" x="1480.5" y="230.3"/>
<use href="#m5" x="1485.4" y="228.8"/>
<use href="#m5" x="1490.4" y="227.4"/>
<use href="#m5" x="1495.3" y="226.0"/>
<use href="#m5" x="1500.3" y="224.7"/>
<use href="#m5" x="1505.2" y="223.3"/>
<use href="#m5" x="1510.1" y="222.1"/>
<use href="#m5" x="1515.1" y="220.8"/>
<use href="#m5" x="1520.0" y="219.6"/>
<use href="#m5" x="1524.9" y="218.3"/>
<use href="#m5" x="1529.9" y="217.1"/>
<use href="#m5" x="1534.8" y="215.9"/>
<use href="#m5" x="1539.8" y="214.7"/>
<use href="#m5" x="1544.7" y="213.6"/>
<use href="#m5" x="1549.6" y="212.4"/>
<use href="#m5" x="1554.6" y="211.2"/>
<use href="#m5" x="1559.5" y="210.0"/>
<use href="#m5" x="1564.5" y="208.9"/>
<use href="#m5" x="1569.4" y="207.8"/>
<use href="#m5" x="1574.3" y="206.7"/>
<use href="#m5" x="1579.3" y="205.6"/>
<use href="#m5" x="1584.2" y="204.5"/>
<use href="#m5" x="1579.3" y="220.6"/>
<use href="#m5" x="1574.3" y="235.0"/>
<use href="#m5" x="1569.4" y="247.4"/>
<use href="#m5" x="1564.5" y="257.7"/>
<use href="#m5" x="1559.5" y="267.0"/>
<use href="#m5" x="1554.6" y="274.8"/>
<use href="#m5" x="1549.6" y="280.6"/>
<use href="#m5" x="1544.7" y="285.1"/>
<use href="#m5" x="1539.8" y="288.9"/>
<use href="#m5" x="1534.8" y="292.3"/>
<use href="#m5" x="1529.9" y="295.3"/>
<use href="#m5" x="1524.9" y="297.9"/>
<use href="#m5" x="1520.0" y="300.3"/>
<use href="#m5" x="1515.1" y="302.5"/>
<use href="#m5" x="1510.1" y="304.6"/>
<use href="#m5" x="1505.2" y="306.4"/>
<use href="#m5" x="1500.3" y="308.1"/>
<use href="#m5" x="1495.3" y="309.7"/>
<use href="#m5" x="1490.4" y="311.3"/>
<use href="#m5" x="1485.4" y="312.8"/>
<use href="#m5" x="1480.5" y="314.3"/>
<use href="#m5" x="1475.6" y="315.8"/>
<use href="#m5" x="1470.6" y="317.4"/>
<use href="#m5" x="1465.7" y="318.9"/>
<use href="#m5" x="1460.8" y="320.4"/>
<use href="#m5" x="1460.8" y="321.5"/>
<use href="#m5" x="1455.6" y="322.8"/>
<use href="#m5" x="1450.5" y="324.2"/>
<use href="#m5" x="1445.4" y="325.7"/>
<use href="#m5" x="1440.3" y="327.2"/>
<use href="#m5" x="1435.2" y="328.9"/>
<use href="#m5" x="1430.1" y="330.5"/>
<use href="#m5" x="1425.0" y="332.2"/>
<use href="#m5" x="1419.9" y="333.9"/>
<use href="#m5" x="1414.8" y="335.7"/>
<use href="#m5" x="1409.7" y="337.4"/>
<use href="#m5" x="1404.5" y="339.2"/>
<use href="#m5" x="1399.4" y="340.9"/>
<use href="#m5" x="1394.3" y="342.7"/>
<use href="#m5" x="1389.2" y="344.6"/>
<use href="#m5" x="1384.1" y="346.4"/>
<use href="#m5" x="1379.0" y="348.3"/>
<use href="#m5" x="1373.9" y="350.3"/>
<use href="#m5" x="1368.8" y="352.2"/>
<use href="#m5" x="1363.7" y="354.2"/>
<use href="#m5" x="1358.6" y="356.1"/>
<use href="#m5" x="1353.4" y="358.0"/>
<use href="#m5" x="1348.3" y="359.7"/>
<use href="#m5" x="1343.2" y="361.5"/>
<use href="#m5" x="1338.1" y="363.1"/>
<use href="#m5" x="1333.0" y="364.8"/>
<polyline points="1284.7,383.2 1291.7,381.1 1298.8,377.4 1305.8,372.6 1312.9,367.1 1319.9,359.5 1326.9,349.8 1334.0,338.3 1341.0,321.9 1348.1,306.0 1355.1,295.4 1362.2,286.7 1369.2,277.9 1376.2,269.3 1383.3,261.6 1390.3,255.4 1397.4,250.6 1404.4,246.6 1411.5,243.2 1418.5,240.1 1425.5,237.3 1432.6,234.7 1439.6,232.2 1446.7,229.9 1453.7,227.7 1460.8,225.5 1467.8,223.5 1474.8,221.5 1481.9,219.6 1488.9,217.6 1496.0,215.7 1503.0,213.8 1510.0,212.0 1517.1,210.3 1524.1,208.5 1531.2,206.9 1538.2,205.2 1545.3,203.6 1552.3,202.0 1559.3,200.3 1566.4,198.7 1573.4,197.0 1580.5,195.3 1587.5,193.6 1594.6,192.0 1601.6,190.3 1608.6,188.6 1615.7,187.0 1622.7,185.3 1629.8,183.7 1636.8,182.0 1629.8,185.2 1622.7,190.4 1615.7,196.9 1608.6,205.0 1601.6,216.7 1594.6,238.0 1587.5,254.5 1580.5,267.0 1573.4,278.2 1566.4,285.2 1559.3,290.9 1552.3,295.5 1545.3,299.6 1538.2,303.2 1531.2,306.5 1524.1,309.4 1517.1,312.2 1510.0,314.8 1503.0,317.5 1496.0,320.1 1488.9,322.7 1481.9,324.9 1474.8,326.7 1467.8,328.1 1460.8,329.1 1460.8,332.3 1453.7,334.6 1446.7,336.8 1439.6,338.9 1432.6,341.1 1425.5,343.1 1418.5,345.2 1411.5,347.3 1404.4,349.5 1397.4,351.7 1390.3,354.2 1383.3,356.8 1376.2,359.4 1369.2,361.8 1362.2,364.1 1355.1,365.9 1348.1,367.4 1341.0,368.5 1334.0,369.5 1326.9,370.4 1319.9,371.5 1312.9,372.7 1305.8,374.4 1298.8,376.8 1291.7,379.8 1284.7,383.2" fill="none" stroke="#8000ff" stroke-width="6.0" stroke-linejoin="round"/>
<use href="#m6" x="1284.7" y="383.2"/>
<use href="#m6" x="1291.7" y="381.1"/>
<use href="#m6" x="1298.8" y="377.4"/>
<use href="#m6" x="1305.8" y="372.6"/>
<use href="#m6" x="1312.9" y="367.1"/>
<use href="#m6" x="1319.9" y="359.5"/>
<use href="#m6" x="1326.9" y="349.8"/>
<use href="#m6" x="1334.0" y="338.3"/>
<use href="#m6" x="1341.0" y="321.9"/>
<use href="#m6" x="1348.1" y="306.0"/>
<use href="#m6" x="1355.1" y="295.4"/>
<use href="#m6" x="1362.2" y="286.7"/>
<use href="#m6" x="1369.2" y="277.9"/>
<use href="#m6" x="1376.2" y="269.3"/>
<use href="#m6" x="1383.3" y="261.6"/>
<use href="#m6" x="1390.3" y="255.4"/>
<use href="#m6" x="1397.4" y="250.6"/>
<use href="#m6" x="1404.4" y="246.6"/>
<use href="#m6" x="1411.5" y="243.2"/>
<use href="#m6" x="1418.5" y="240.1"/>
<use href="#m6" x="1425.5" y="237.3"/>
<use href="#m6" x="1432.6" y="234.7"/>
<use href="#m6" x="1439.6" y="232.2"/>
<use href="#m6" x="1446.7" y="229.9"/>
<use href="#m6" x="1453.7" y="227.7"/>
<use href="#m6" x="1460.8" y="225.5"/>
<use href="#m6" x="1467.8" y="223.5"/>
<use href="#m6" x="1474.8" y="221.5"/>
<use href="#m6" x="1481.9" y="219.6"/>
<use href="#m6" x="1488.9" y="217.6"/>
<use href="#m6" x="1496.0" y="215.7"/>
<use href="#m6" x="1503.0" y="213.8"/>
<use href="#m6" x="1510.0" y="212.0"/>
<use href="#m6" x="1517.1" y="210.3"/>
<use href="#m6" x="1524.1" y="208.5"/>
<use href="#m6" x="1531.2" y="206.9"/>
<use href="#m6" x="1538.2" y="205.2"/>
<use href="#m6" x="1545.3" y="203.6"/>
<use href="#m6" x="1552.3" y="202.0"/>
<use href="#m6" x="1559.3" y="200.3"/>
<use href="#m6" x="1566.4" y="198.7"/>
<use href="#m6" x="1573.4" y="197.0"/>
<use href="#m6" x="1580.5" y="195.3"/>
<use href="#m6" x="1587.5" y="193.6"/>
<use href="#m6" x="1594.6" y="192.0"/>
<use href="#m6" x="1601.6" y="190.3"/>
<use href="#m6" x="1608.6" y="188.6"/>
<use href="#m6" x="1615.7" y="187.0"/>
<use href="#m6" x="1622.7" y="185.3"/>
<use href="#m6" x="1629.8" y="183.7"/>
<use href="#m6" x="1636.8" y="182.0"/>
<use href="#m6" x="1629.8" y="185.2"/>
<use href="#m6" x="1622.7" y="190.4"/>
<use href="#m6" x="1615.7" y="196.9"/>
<use href="#m6" x="1608.6" y="205.0"/>
<use href="#m6" x="1601.6" y="216.7"/>
<use href="#m6" x="1594.6" y="238.0"/>
<use href="#m6" x="1587.5" y="254.5"/>
<use href="#m6" x="1580.5" y="267.0"/>
<use href="#m6" x="1573.4" y="278.2"/>
<use href="#m6" x="1566.4" y="285.2"/>
<use href="#m6" x="1559.3" y="290.9"/>
<use href="#m6" x="1552.3" y="295.5"/>
<use href="#m6" x="1545.3" y="299.6"/>
<use href="#m6" x="1538.2" y="303.2"/>
<use href="#m6" x="1531.2" y="306.5"/>
<use href="#m6" x="1524.1" y="309.4"/>
<use href="#m6" x="1517.1" y="312.2"/>
<use href="#m6" x="1510.0" y="314.8"/>
<use href="#m6" x="1503.0" y="317.5"/>
<use href="#m6" x="1496.0" y="320.1"/>
<use href="#m6" x="1488.9" y="322.7"/>
<use href="#m6" x="1481.9" y="324.9"/>
<use href="#m6" x="1474.8" y="326.7"/>
<use href="#m6" x="1467.8" y="328.1"/>
<use href="#m6" x="1460.8" y="329.1"/>
<use href="#m6" x="1460.8" y="332.3"/>
<use href="#m6" x="1453.7" y="334.6"/>
<use href="#m6" x="1446.7" y="336.8"/>
<use href="#m6" x="1439.6" y="338.9"/>
<use href="#m6" x="1432.6" y="341.1"/>
<use href="#m6" x="1425.5" y="343.1"/>
<use href="#m6" x="1418.5" y="345.2"/>
<use href="#m6" x="1411.5" y="347.3"/>
<use href="#m6" x="1404.4" y="349.5"/>
<use href="#m6" x="1397.4" y="351.7"/>
<use href="#m6" x="1390.3" y="354.2"/>
<use href="#m6" x="1383.3" y="356.8"/>
<use href="#m6" x="1376.2" y="359.4"/>
<use href="#m6" x="1369.2" y="361.8"/>
<use href="#m6" x="1362.2" y="364.1"/>
<use href="#m6" x="1355.1" y="365.9"/>
<use href="#m6" x="1348.1" y="367.4"/>
<use href="#m6" x="1341.0" y="368.5"/>
<use href="#m6" x="1334.0" y="369.5"/>
<use href="#m6" x="1326.9" y="370.4"/>
<use href="#m6" x="1319.9" y="371.5"/>
<use href="#m6" x="1312.9" y="372.7"/>
<use href="#m6" x="1305.8" y="374.4"/>
<use href="#m6" x="1298.8" y="376.8"/>
<use href="#m6" x="1291.7" y="379.8"/>
<use href="#m6" x="1284.7" y="383.2"/>
<polyline points="1274.0,401.5 1281.4,398.6 1288.9,394.3 1296.4,389.0 1303.8,382.9 1311.3,375.2 1318.8,365.2 1326.3,351.3 1333.7,331.3 1341.2,306.9 1348.7,286.6 1356.1,273.8 1363.6,266.1 1371.1,257.5 1378.6,249.9 1386.0,244.1 1393.5,239.1 1401.0,234.7 1408.4,230.9 1415.9,227.7 1423.4,224.8 1430.9,222.0 1438.3,219.3 1445.8,216.6 1453.3,214.0 1460.8,211.5 1468.2,209.1 1475.7,206.8 1483.2,204.6 1490.6,202.5 1498.1,200.5 1505.6,198.7 1513.1,196.9 1520.5,195.0 1528.0,192.8 1535.5,190.6 1542.9,188.3 1550.4,186.2 1557.9,184.2 1565.4,182.2 1572.8,180.3 1580.3,178.4 1587.8,176.5 1595.2,174.7 1602.7,172.8 1610.2,170.9 1617.7,168.9 1625.1,166.9 1632.6,164.9 1640.1,162.9 1647.5,160.9 1640.1,164.3 1632.6,168.5 1625.1,173.3 1617.7,178.8 1610.2,185.4 1602.7,192.8 1595.2,205.1 1587.8,234.6 1580.3,265.2 1572.8,280.7 1565.4,291.4 1557.9,299.1 1550.4,305.0 1542.9,309.8 1535.5,314.0 1528.0,317.6 1520.5,320.6 1513.1,323.2 1505.6,325.6 1498.1,327.9 1490.6,330.0 1483.2,331.9 1475.7,333.5 1468.2,334.7 1460.8,335.6 1460.8,343.1 1453.3,345.5 1445.8,347.9 1438.3,350.1 1430.9,352.4 1423.4,354.6 1415.9,356.8 1408.4,359.0 1401.0,361.2 1393.5,363.4 1386.0,365.8 1378.6,368.3 1371.1,370.9 1363.6,373.6 1356.1,376.2 1348.7,378.6 1341.2,381.0 1333.7,383.2 1326.3,385.4 1318.8,387.4 1311.3,389.1 1303.8,390.8 1296.4,392.7 1288.9,395.1 1281.4,398.1 1274.0,401.5" fill="none" stroke="#ff00ff" stroke-width="6.0" stroke-linejoin="round"/>
<use href="#m7" x="1274.0" y="401.5"/>
<use href="#m7" x="1281.4" y="398.6"/>
<use href="#m7" x="1288.9" y="394.3"/>
<use href="#m7" x="1296.4" y="389.0"/>
<use href="#m7" x="1303.8" y="382.9"/>
<use href="#m7" x="1311.3" y="375.2"/>
<use href="#m7" x="1318.8" y="365.2"/>
<use href="#m7" x="1326.3" y="351.3"/>
<use href="#m7" x="1333.7" y="331.3"/>
<use href="#m7" x="1341.2" y="306.9"/>
<use href="#m7" x="1348.7" y="286.6"/>
<use href="#m7" x="1356.1" y="273.8"/>
<use href="#m7" x="1363.6" y="266.1"/>
<use href="#m7" x="1371.1" y="257.5"/>
<use href="#m7" x="1378.6" y="249.9"/>
<use href="#m7" x="1386.0" y="244.1"/>
<use href="#m7" x="1393.5" y="239.1"/>
<use href="#m7" x="1401.0" y="234.7"/>
<use href="#m7" x="1408.4" y="230.9"/>
<use href="#m7" x="1415.9" y="227.7"/>
<use href="#m7" x="1423.4" y="224.8"/>
<use href="#m7" x="1430.9" y="222.0"/>
<use href="#m7" x="1438.3" y="219.3"/>
<use href="#m7" x="1445.8" y="216.6"/>
<use href="#m7" x="1453.3" y="214.0"/>
<use href="#m7" x="1460.8" y="211.5"/>
<use href="#m7" x="1468.2" y="209.1"/>
<use href="#m7" x="1475.7" y="206.8"/>
<use href="#m7" x="1483.2" y="204.6"/>
<use href="#m7" x="1490.6" y="202.5"/>
<use href="#m7" x="1498.1" y="200.5"/>
<use href="#m7" x="1505.6" y="198.7"/>
<use href="#m7" x="1513.1" y="196.9"/>
<use href="#m7" x="1520.5" y="195.0"/>
<use href="#m7" x="1528.0" y="192.8"/>
<use href="#m7" x="1535.5" y="190.6"/>
<use href="#m7" x="1542.9" y="188.3"/>
<use href="#m7" x="1550.4" y="186.2"/>
<use href="#m7" x="1557.9" y="184.2"/>
<use href="#m7" x="1565.4" y="182.2"/>
<use href="#m7" x="1572.8" y="180.3"/>
<use href="#m7" x="1580.3" y="178.4"/>
<use href="#m7" x="1587.8" y="176.5"/>
<use href="#m7" x="1595.2" y="174.7"/>
<use href="#m7" x="1602.7" y="172.8"/>
<use href="#m7" x="1610.2" y="170.9"/>
<use href="#m7" x="1617.7" y="168.9"/>
<use href="#m7" x="1625.1" y="166.9"/>
<use href="#m7" x="1632.6" y="164.9"/>
<use href="#m7" x="1640.1" y="162.9"/>
<use href="#m7" x="1647.5" y="160.9"/>
<use href="#m7" x="1640.1" y="164.3"/>
<use href="#m7" x="1632.6" y="168.5"/>
<use href="#m7" x="1625.1" y="173.3"/>
<use href="#m7" x="1617.7" y="178.8"/>
<use href="#m7" x="1610.2" y="185.4"/>
<use href="#m7" x="1602.7" y="192.8"/>
<use href="#m7" x="1595.2" y="205.1"/>
<use href="#m7" x="1587.8" y="234.6"/>
<use href="#m7" x="1580.3" y="265.2"/>
<use href="#m7" x="1572.8" y="280.7"/>
<use href="#m7" x="1565.4" y="291.4"/>
<use href="#m7" x="1557.9" y="299.1"/>
<use href="#m7" x="1550.4" y="305.0"/>
<use href="#m7" x="1542.9" y="309.8"/>
<use href="#m7" x="1535.5" y="314.0"/>
<use href="#m7" x="1528.0" y="317.6"/>
<use href="#m7" x="1520.5" y="320.6"/>
<use href="#m7" x="1513.1" y="323.2"/>
<use href="#m7" x="1505.6" y="325.6"/>
<use href="#m7" x="1498.1" y="327.9"/>
<use href="#m7" x="1490.6" y="330.0"/>
<use href="#m7" x="1483.2" y="331.9"/>
<use href="#m7" x="1475.7" y="333.5"/>
<use href="#m7" x="1468.2" y="334.7"/>
<use href="#m7" x="1460.8" y="335.6"/>
<use href="#m7" x="1460.8" y="343.1"/>
<use href="#m7" x="1453.3" y="345.5"/>
<use href="#m7" x="1445.8" y="347.9"/>
<use href="#m7" x="1438.3" y="350.1"/>
<use href="#m7" x="1430.9" y="352.4"/>
<use href="#m7" x="1423.4" y="354.6"/>
<use href="#m7" x="1415.9" y="356.8"/>
<use href="#m7" x="1408.4" y="359.0"/>
<use href="#m7" x="1401.0" y="361.2"/>
<use href="#m7" x="1393.5" y="363.4"/>
<use href="#m7" x="1386.0" y="365.8"/>
<use href="#m7" x="1378.6" y="368.3"/>
<use href="#m7" x="1371.1" y="370.9"/>
<use href="#m7" x="1363.6" y="373.6"/>
<use href="#m7" x="1356.1" y="376.2"/>
<use href="#m7" x="1348.7" y="378.6"/>
<use href="#m7" x="1341.2" y="381.0"/>
<use href="#m7" x="1333.7" y="383.2"/>
<use href="#m7" x="1326.3" y="385.4"/>
<use href="#m7" x="1318.8" y="387.4"/>
<use href="#m7" x="1311.3" y="389.1"/>
<use href="#m7" x="1303.8" y="390.8"/>
<use href="#m7" x="1296.4" y="392.7"/>
<use href="#m7" x="1288.9" y="395.1"/>
<use href="#m7" x="1281.4" y="398.1"/>
<use href="#m7" x="1274.0" y="401.5"/>
<polyline points="1228.9,456.7 1238.1,449.4 1247.4,441.0 1256.7,431.9 1266.0,422.0 1275.2,410.8 1284.5,397.4 1293.8,381.1 1303.1,361.5 1312.3,337.4 1321.6,313.7 1330.9,290.8 1340.2,269.4 1349.4,251.1 1358.7,235.8 1368.0,224.0 1377.3,214.2 1386.5,205.8 1395.8,198.6 1405.1,192.2 1414.4,186.2 1423.6,180.9 1432.9,176.7 1442.2,173.7 1451.5,171.5 1460.8,169.7 1470.0,168.2 1479.3,166.7 1488.6,165.1 1497.9,163.1 1507.1,160.8 1516.4,158.3 1525.7,155.7 1535.0,153.0 1544.2,150.3 1553.5,147.6 1562.8,144.8 1572.1,142.0 1581.3,139.1 1590.6,136.3 1599.9,133.5 1609.2,130.7 1618.4,128.0 1627.7,125.4 1637.0,122.7 1646.3,120.1 1655.5,117.5 1664.8,115.0 1674.1,112.4 1683.4,109.9 1692.6,107.4 1683.4,111.2 1674.1,115.6 1664.8,120.5 1655.5,125.8 1646.3,131.5 1637.0,137.4 1627.7,143.8 1618.4,151.8 1609.2,163.1 1599.9,179.6 1590.6,200.5 1581.3,227.5 1572.1,259.2 1562.8,286.7 1553.5,307.3 1544.2,322.0 1535.0,332.0 1525.7,338.7 1516.4,343.8 1507.1,348.1 1497.9,352.2 1488.6,356.0 1479.3,359.4 1470.0,362.4 1460.8,364.8 1460.8,378.8 1451.5,381.5 1442.2,384.6 1432.9,388.3 1423.6,392.2 1414.4,395.8 1405.1,399.2 1395.8,402.5 1386.5,405.6 1377.3,408.5 1368.0,411.2 1358.7,413.9 1349.4,416.9 1340.2,420.2 1330.9,423.5 1321.6,426.8 1312.3,430.0 1303.1,433.1 1293.8,436.3 1284.5,439.3 1275.2,442.3 1266.0,445.3 1256.7,448.2 1247.4,451.1 1238.1,453.9 1228.9,456.7" fill="none" stroke="#000080" stroke-width="6.0" stroke-linejoin="round"/>
<use href="#m8" x="1228.9" y="456.7"/>
<use href="#m8" x="1238.1" y="449.4"/>
<use href="#m8" x="1247.4" y="441.0"/>
<use href="#m8" x="1256.7" y="431.9"/>
<use href="#m8" x="1266.0" y="422.0"/>
<use href="#m8" x="1275.2" y="410.8"/>
<use href="#m8" x="1284.5" y="397.4"/>
<use href="#m8" x="1293.8" y="381.1"/>
<use href="#m8" x="1303.1" y="361.5"/>
<use href="#m8" x="1312.3" y="337.4"/>
<use href="#m8" x="1321.6" y="313.7"/>
<use href="#m8" x="1330.9" y="290.8"/>
<use href="#m8" x="1340.2" y="269.4"/>
<use href="#m8" x="1349.4" y="251.1"/>
<use href="#m8" x="1358.7" y="235.8"/>
<use href="#m8" x="1368.0" y="224.0"/>
<use href="#m8" x="1377.3" y="214.2"/>
<use href="#m8" x="1386.5" y="205.8"/>
<use href="#m8" x="1395.8" y="198.6"/>
<use href="#m8" x="1405.1" y="192.2"/>
<use href="#m8" x="1414.4" y="186.2"/>
<use href="#m8" x="1423.6" y="180.9"/>
<use href="#m8" x="1432.9" y="176.7"/>
<use href="#m8" x="1442.2" y="173.7"/>
<use href="#m8" x="1451.5" y="171.5"/>
<use href="#m8" x="1460.8" y="169.7"/>
<use href="#m8" x="1470.0" y="168.2"/>
<use href="#m8" x="1479.3" y="166.7"/>
<use href="#m8" x="1488.6" y="165.1"/>
<use href="#m8" x="1497.9" y="163.1"/>
<use href="#m8" x="1507.1" y="160.8"/>
<use href="#m8" x="1516.4" y="158.3"/>
<use href="#m8" x="1525.7" y="155.7"/>
<use href="#m8" x="1535.0" y="153.0"/>
<use href="#m8" x="1544.2" y="150.3"/>
<use href="#m8" x="1553.5" y="147.6"/>
<use href="#m8" x="1562.8" y="144.8"/>
<use href="#m8" x="1572.1" y="142.0"/>
<use href="#m8" x="1581.3" y="139.1"/>
<use href="#m8" x="1590.6" y="136.3"/>
<use href="#m8" x="1599.9" y="133.5"/>
<use href="#m8" x="1609.2" y="130.7"/>
<use href="#m8" x="1618.4" y="128.0"/>
<use href="#m8" x="1627.7" y="125.4"/>
<use href="#m8" x="1637.0" y="122.7"/>
<use href="#m8" x="1646.3" y="120.1"/>
<use href="#m8" x="1655.5" y="117.5"/>
<use href="#m8" x="1664.8" y="115.0"/>
<use href="#m8" x="1674.1" y="112.4"/>
<use href="#m8" x="1683.4" y="109.9"/>
<use href="#m8" x="1692.6" y="107.4"/>
<use href="#m8" x="1683.4" y="111.2"/>
<use href="#m8" x="1674.1" y="115.6"/>
<use href="#m8" x="1664.8" y="120.5"/>
<use href="#m8" x="1655.5" y="125.8"/>
<use href="#m8" x="1646.3" y="131.5"/>
<use href="#m8" x="1637.0" y="137.4"/>
<use href="#m8" x="1627.7" y="143.8"/>
<use href="#m8" x="1618.4" y="151.8"/>
<use href="#m8" x="1609.2" y="163.1"/>
<use href="#m8" x="1599.9" y="179.6"/>
<use href="#m8" x="1590.6" y="200.5"/>
<use href="#m8" x="1581.3" y="227.5"/>
<use href="#m8" x="1572.1" y="259.2"/>
<use href="#m8" x="1562.8" y="286.7"/>
<use href="#m8" x="1553.5" y="307.3"/>
<use href="#m8" x="1544.2" y="322.0"/>
<use href="#m8" x="1535.0" y="332.0"/>
<use href="#m8" x="1525.7" y="338.7"/>
<use href="#m8" x="1516.4" y="343.8"/>
<use href="#m8" x="1507.1" y="348.1"/>
<use href="#m8" x="1497.9" y="352.2"/>
<use href="#m8" x="1488.6" y="356.0"/>
<use href="#m8" x="1479.3" y="359.4"/>
<use href="#m8" x="1470.0" y="362.4"/>
<use href="#m8" x="1460.8" y="364.8"/>
<use href="#m8" x="1460.8" y="378.8"/>
<use href="#m8" x="1451.5" y="381.5"/>
<use href="#m8" x="1442.2" y="384.6"/>
<use href="#m8" x="1432.9" y="388.3"/>
<use href="#m8" x="1423.6" y="392.2"/>
<use href="#m8" x="1414.4" y="395.8"/>
<use href="#m8" x="1405.1" y="399.2"/>
<use href="#m8" x="1395.8" y="402.5"/>
<use href="#m8" x="1386.5" y="405.6"/>
<use href="#m8" x="1377.3" y="408.5"/>
<use href="#m8" x="1368.0" y="411.2"/>
<use href="#m8" x="1358.7" y="413.9"/>
<use href="#m8" x="1349.4" y="416.9"/>
<use href="#m8" x="1340.2" y="420.2"/>
<use href="#m8" x="1330.9" y="423.5"/>
<use href="#m8" x="1321.6" y="426.8"/>
<use href="#m8" x="1312.3" y="430.0"/>
<use href="#m8" x="1303.1" y="433.1"/>
<use href="#m8" x="1293.8" y="436.3"/>
<use href="#m8" x="1284.5" y="439.3"/>
<use href="#m8" x="1275.2" y="442.3"/>
<use href="#m8" x="1266.0" y="445.3"/>
<use href="#m8" x="1256.7" y="448.2"/>
<use href="#m8" x="1247.4" y="451.1"/>
<use href="#m8" x="1238.1" y="453.9"/>
<use href="#m8" x="1228.9" y="456.7"/>
<polyline points="1256.8,438.3 1264.9,433.1 1273.1,425.7 1281.3,416.5 1289.4,405.8 1297.6,391.8 1305.7,375.4 1313.9,356.1 1322.1,334.3 1330.2,310.2 1338.4,288.0 1346.5,268.2 1354.7,253.8 1362.8,244.6 1371.0,237.3 1379.2,230.2 1387.3,223.1 1395.5,216.4 1403.6,210.2 1411.8,204.8 1420.0,200.4 1428.1,196.7 1436.3,193.2 1444.4,190.1 1452.6,187.2 1460.8,184.5 1468.9,182.0 1477.1,179.5 1485.2,177.0 1493.4,174.4 1501.5,171.9 1509.7,169.4 1517.9,167.0 1526.0,164.6 1534.2,162.3 1542.3,160.0 1550.5,157.7 1558.7,155.5 1566.8,153.2 1575.0,150.9 1583.1,148.7 1591.3,146.4 1599.4,144.2 1607.6,142.0 1615.8,139.8 1623.9,137.6 1632.1,135.4 1640.2,133.3 1648.4,131.1 1656.6,129.0 1664.7,126.9 1656.6,130.0 1648.4,133.3 1640.2,136.9 1632.1,140.5 1623.9,144.9 1615.8,151.4 1607.6,160.7 1599.4,172.6 1591.3,190.4 1583.1,212.8 1575.0,239.3 1566.8,267.0 1558.7,291.1 1550.5,306.7 1542.3,317.4 1534.2,325.1 1526.0,331.1 1517.9,336.1 1509.7,340.3 1501.5,344.1 1493.4,347.6 1485.2,350.9 1477.1,353.8 1468.9,356.3 1460.8,358.3 1460.8,370.2 1452.6,373.1 1444.4,376.1 1436.3,379.4 1428.1,382.9 1420.0,386.1 1411.8,389.0 1403.6,391.5 1395.5,393.8 1387.3,396.1 1379.2,398.6 1371.0,401.0 1362.8,403.5 1354.7,406.0 1346.5,408.5 1338.4,411.1 1330.2,413.5 1322.1,415.7 1313.9,417.4 1305.7,418.9 1297.6,420.4 1289.4,422.3 1281.3,425.0 1273.1,428.7 1264.9,433.2 1256.8,438.3" fill="none" stroke="#c0c0c0" stroke-width="6.0" stroke-linejoin="round"/>
<use href="#m9" x="1256.8" y="438.3"/>
<use href="#m9" x="1264.9" y="433.1"/>
<use href="#m9" x="1273.1" y="425.7"/>
<use href="#m9" x="1281.3" y="416.5"/>
<use href="#m9" x="1289.4" y="405.8"/>
<use href="#m9" x="1297.6" y="391.8"/>
<use href="#m9" x="1305.7" y="375.4"/>
<use href="#m9" x="1313.9" y="356.1"/>
<use href="#m9" x="1322.1" y="334.3"/>
<use href="#m9" x="1330.2" y="310.2"/>
<use href="#m9" x="1338.4" y="288.0"/>
<use href="#m9" x="1346.5" y="268.2"/>
<use href="#m9" x="1354.7" y="253.8"/>
<use href="#m9" x="1362.8" y="244.6"/>
<use href="#m9" x="1371.0" y="237.3"/>
<use href="#m9" x="1379.2" y="230.2"/>
<use href="#m9" x="1387.3" y="223.1"/>
<use href="#m9" x="1395.5" y="216.4"/>
<use href="#m9" x="1403.6" y="210.2"/>
<use href="#m9" x="1411.8" y="204.8"/>
<use href="#m9" x="1420.0" y="200.4"/>
<use href="#m9" x="1428.1" y="196.7"/>
<use href="#m9" x="1436.3" y="193.2"/>
<use href="#m9" x="1444.4" y="190.1"/>
<use href="#m9" x="1452.6" y="187.2"/>
<use href="#m9" x="1460.8" y="184.5"/>
<use href="#m9" x="1468.9" y="182.0"/>
<use href="#m9" x="1477.1" y="179.5"/>
<use href="#m9" x="1485.2" y="177.0"/>
<use href="#m9" x="1493.4" y="174.4"/>
<use href="#m9" x="1501.5" y="171.9"/>
<use href="#m9" x="1509.7" y="169.4"/>
<use href="#m9" x="1517.9" y="167.0"/>
<use href="#m9" x="1526.0" y="164.6"/>
<use href="#m9" x="1534.2" y="162.3"/>
<use href="#m9" x="1542.3" y="160.0"/>
<use href="#m9" x="1550.5" y="157.7"/>
<use href="#m9" x="1558.7" y="155.5"/>
<use href="#m9" x="1566.8" y="153.2"/>
<use href="#m9" x="1575.0" y="150.9"/>
<use href="#m9" x="1583.1" y="148.7"/>
<use href="#m9" x="1591.3" y="146.4"/>
<use href="#m9" x="1599.4" y="144.2"/>
<use href="#m9" x="1607.6" y="142.0"/>
<use href="#m9" x="1615.8" y="139.8"/>
<use href="#m9" x="1623.9" y="137.6"/>
<use href="#m9" x="1632.1" y="135.4"/>
<use href="#m9" x="1640.2" y="133.3"/>
<use href="#m9" x="1648.4" y="131.1"/>
<use href="#m9" x="1656.6" y="129.0"/>
<use href="#m9" x="1664.7" y="126.9"/>
<use href="#m9" x="1656.6" y="130.0"/>
<use href="#m9" x="1648.4" y="133.3"/>
<use href="#m9" x="1640.2" y="136.9"/>
<use href="#m9" x="1632.1" y="140.5"/>
<use href="#m9" x="1623.9" y="144.9"/>
<use href="#m9" x="1615.8" y="151.4"/>
<use href="#m9" x="1607.6" y="160.7"/>
<use href="#m9" x="1599.4" y="172.6"/>
<use href="#m9" x="1591.3" y="190.4"/>
<use href="#m9" x="1583.1" y="212.8"/>
<use href="#m9" x="1575.0" y="239.3"/>
<use href="#m9" x="1566.8" y="267.0"/>
<use href="#m9" x="1558.7" y="291.1"/>
<use href="#m9" x="1550.5" y="306.7"/>
<use href="#m9" x="1542.3" y="317.4"/>
<use href="#m9" x="1534.2" y="325.1"/>
<use href="#m9" x="1526.0" y="331.1"/>
<use href="#m9" x="1517.9" y="336.1"/>
<use href="#m9" x="1509.7" y="340.3"/>
<use href="#m9" x="1501.5" y="344.1"/>
<use href="#m9" x="1493.4" y="347.6"/>
<use href="#m9" x="1485.2" y="350.9"/>
<use href="#m9" x="1477.1" y="353.8"/>
<use href="#m9" x="1468.9" y="356.3"/>
<use href="#m9" x="1460.8" y="358.3"/>
<use href="#m9" x="1460.8" y="370.2"/>
<use href="#m9" x="1452.6" y="373.1"/>
<use href="#m9" x="1444.4" y="376.1"/>
<use href="#m9" x="1436.3" y="379.4"/>
<use href="#m9" x="1428.1" y="382.9"/>
<use href="#m9" x="1420.0" y="386.1"/>
<use href="#m9" x="1411.8" y="389.0"/>
<use href="#m9" x="1403.6" y="391.5"/>
<use href="#m9" x="1395.5" y="393.8"/>
<use href="#m9" x="1387.3" y="396.1"/>
<use href="#m9" x="1379.2" y="398.6"/>
<use href="#m9" x="1371.0" y="401.0"/>
<use href="#m9" x="1362.8" y="403.5"/>
<use href="#m9" x="1354.7" y="406.0"/>
<use href="#m9" x="1346.5" y="408.5"/>
<use href="#m9" x="1338.4" y="411.1"/>
<use href="#m9" x="1330.2" y="413.5"/>
<use href="#m9" x="1322.1" y="415.7"/>
<use href="#m9" x="1313.9" y="417.4"/>
<use href="#m9" x="1305.7" y="418.9"/>
<use href="#m9" x="1297.6" y="420.4"/>
<use href="#m9" x="1289.4" y="422.3"/>
<use href="#m9" x="1281.3" y="425.0"/>
<use href="#m9" x="1273.1" y="428.7"/>
<use href="#m9" x="1264.9" y="433.2"/>
<use href="#m9" x="1256.8" y="438.3"/>
<polyline points="1222.4,470.7 1232.0,461.7 1241.5,452.0 1251.0,441.9 1260.6,431.6 1270.1,420.4 1279.6,407.1 1289.2,390.6 1298.7,369.9 1308.2,342.9 1317.8,316.5 1327.3,290.8 1336.8,265.9 1346.4,246.9 1355.9,231.8 1365.4,217.6 1375.0,204.6 1384.5,195.8 1394.0,189.6 1403.6,184.4 1413.1,180.1 1422.6,176.2 1432.2,172.3 1441.7,168.6 1451.2,165.2 1460.8,162.1 1470.3,159.0 1479.8,155.9 1489.3,152.8 1498.9,149.8 1508.4,146.8 1517.9,143.8 1527.5,141.0 1537.0,138.2 1546.5,135.5 1556.1,132.6 1565.6,129.6 1575.1,126.6 1584.7,123.5 1594.2,120.5 1603.7,117.6 1613.3,114.9 1622.8,112.4 1632.3,110.0 1641.9,107.7 1651.4,105.4 1660.9,103.2 1670.5,101.1 1680.0,99.1 1689.5,97.1 1699.1,95.3 1689.5,103.4 1680.0,109.7 1670.5,114.7 1660.9,119.1 1651.4,123.6 1641.9,127.7 1632.3,131.4 1622.8,136.4 1613.3,145.9 1603.7,167.1 1594.2,190.4 1584.7,216.6 1575.1,247.2 1565.6,285.0 1556.1,309.5 1546.5,324.7 1537.0,334.6 1527.5,342.1 1517.9,348.0 1508.4,352.7 1498.9,356.5 1489.3,360.0 1479.8,363.6 1470.3,367.3 1460.8,370.9 1460.8,379.4 1451.2,382.6 1441.7,386.8 1432.2,391.6 1422.6,396.6 1413.1,401.6 1403.6,406.2 1394.0,410.3 1384.5,414.0 1375.0,417.5 1365.4,421.0 1355.9,424.7 1346.4,428.6 1336.8,432.6 1327.3,436.7 1317.8,440.7 1308.2,444.5 1298.7,448.1 1289.2,451.6 1279.6,454.8 1270.1,457.8 1260.6,460.7 1251.0,463.4 1241.5,466.0 1232.0,468.5 1222.4,470.7" fill="none" stroke="#ff0000" stroke-width="6.0" stroke-linejoin="round"/>
<use href="#m10" x="1222.4" y="470.7"/>
<use href="#m10" x="1232.0" y="461.7"/>
<use href="#m10" x="1241.5" y="452.0"/>
<use href="#m10" x="1251.0" y="441.9"/>
<use href="#m10" x="1260.6" y="431.6"/>
<use href="#m10" x="1270.1" y="420.4"/>
<use href="#m10" x="1279.6" y="407.1"/>
<use href="#m10" x="1289.2" y="390.6"/>
<use href="#m10" x="1298.7" y="369.9"/>
<use href="#m10" x="1308.2" y="342.9"/>
<use href="#m10" x="1317.8" y="316.5"/>
<use href="#m10" x="1327.3" y="290.8"/>
<use href="#m10" x="1336.8" y="265.9"/>
<use href="#m10" x="1346.4" y="246.9"/>
<use href="#m10" x="1355.9" y="231.8"/>
<use href="#m10" x="1365.4" y="217.6"/>
<use href="#m10" x="1375.0" y="204.6"/>
<use href="#m10" x="1384.5" y="195.8"/>
<use href="#m10" x="1394.0" y="189.6"/>
<use href="#m10" x="1403.6" y="184.4"/>
<use href="#m10" x="1413.1" y="180.1"/>
<use href="#m10" x="1422.6" y="176.2"/>
<use href="#m10" x="1432.2" y="172.3"/>
<use href="#m10" x="1441.7" y="168.6"/>
<use href="#m10" x="1451.2" y="165.2"/>
<use href="#m10" x="1460.8" y="162.1"/>
<use href="#m10" x="1470.3" y="159.0"/>
<use href="#m10" x="1479.8" y="155.9"/>
<use href="#m10" x="1489.3" y="152.8"/>
<use href="#m10" x="1498.9" y="149.8"/>
<use href="#m10" x="1508.4" y="146.8"/>
<use href="#m10" x="1517.9" y="143.8"/>
<use href="#m10" x="1527.5" y="141.0"/>
<use href="#m10" x="1537.0" y="138.2"/>
<use href="#m10" x="1546.5" y="135.5"/>
<use href="#m10" x="1556.1" y="132.6"/>
<use href="#m10" x="1565.6" y="129.6"/>
<use href="#m10" x="1575.1" y="126.6"/>
<use href="#m10" x="1584.7" y="123.5"/>
<use href="#m10" x="1594.2" y="120.5"/>
<use href="#m10" x="1603.7" y="117.6"/>
<use href="#m10" x="1613.3" y="114.9"/>
<use href="#m10" x="1622.8" y="112.4"/>
<use href="#m10" x="1632.3" y="110.0"/>
<use href="#m10" x="1641.9" y="107.7"/>
<use href="#m10" x="1651.4" y="105.4"/>
<use href="#m10" x="1660.9" y="103.2"/>
<use href="#m10" x="1670.5" y="101.1"/>
<use href="#m10" x="1680.0" y="99.1"/>
<use href="#m10" x="1689.5" y="97.1"/>
<use href="#m10" x="1699.1" y="95.3"/>
<use href="#m10" x="1689.5" y="103.4"/>
<use href="#m10" x="1680.0" y="109.7"/>
<use href="#m10" x="1670.5" y="114.7"/>
<use href="#m10" x="1660.9" y="119.1"/>
<use href="#m10" x="1651.4" y="123.6"/>
<use href="#m10" x="1641.9" y="127.7"/>
<use href="#m10" x="1632.3" y="131.4"/>
<use href="#m10" x="1622.8" y="136.4"/>
<use href="#m10" x="1613.3" y="145.9"/>
<use href="#m10" x="1603.7" y="167.1"/>
<use href="#m10" x="1594.2" y="190.4"/>
<use href="#m10" x="1584.7" y="216.6"/>
<use href="#m10" x="1575.1" y="247.2"/>
<use href="#m10" x="1565.6" y="285.0"/>
<use href="#m10" x="1556.1" y="309.5"/>
<use href="#m10" x="1546.5" y="324.7"/>
<use href="#m10" x="1537.0" y="334.6"/>
<use href="#m10" x="1527.5" y="342.1"/>
<use href="#m10" x="1517.9" y="348.0"/>
<use href="#m10" x="1508.4" y="352.7"/>
<use href="#m10" x="1498.9" y="356.5"/>
<use href="#m10" x="1489.3" y="360.0"/>
<use href="#m10" x="1479.8" y="363.6"/>
<use href="#m10" x="1470.3" y="367.3"/>
<use href="#m10" x="1460.8" y="370.9"/>
<use href="#m10" x="1460.8" y="379.4"/>
<use href="#m10" x="1451.2" y="382.6"/>
<use href="#m10" x="1441.7" y="386.8"/>
<use href="#m10" x="1432.2" y="391.6"/>
<use href="#m10" x="1422.6" y="396.6"/>
<use href="#m10" x="1413.1" y="401.6"/>
<use href="#m10" x="1403.6" y="406.2"/>
<use href="#m10" x="1394.0" y="410.3"/>
<use href="#m10" x="1384.5" y="414.0"/>
<use href="#m10" x="1375.0" y="417.5"/>
<use href="#m10" x="1365.4" y="421.0"/>
<use href="#m10" x="1355.9" y="424.7"/>
<use href="#m10" x="1346.4" y="428.6"/>
<use href="#m10" x="1336.8" y="432.6"/>
<use href="#m10" x="1327.3" y="436.7"/>
<use href="#m10" x="1317.8" y="440.7"/>
<use href="#m10" x="1308.2" y="444.5"/>
<use href="#m10" x="1298.7" y="448.1"/>
<use href="#m10" x="1289.2" y="451.6"/>
<use href="#m10" x="1279.6" y="454.8"/>
<use href="#m10" x="1270.1" y="457.8"/>
<use href="#m10" x="1260.6" y="460.7"/>
<use href="#m10" x="1251.0" y="463.4"/>
<use href="#m10" x="1241.5" y="466.0"/>
<use href="#m10" x="1232.0" y="468.5"/>
<use href="#m10" x="1222.4" y="470.7"/>
<polyline points="1201.0,495.3 1211.4,484.5 1221.7,473.8 1232.1,463.4 1242.5,452.9 1252.9,441.8 1263.3,430.3 1273.7,419.2 1284.1,406.3 1294.5,387.4 1304.9,363.2 1315.3,335.4 1325.7,295.2 1336.1,266.1 1346.4,238.4 1356.8,216.1 1367.2,202.3 1377.6,190.6 1388.0,181.6 1398.4,174.4 1408.8,167.9 1419.2,161.9 1429.6,156.5 1440.0,151.6 1450.4,146.7 1460.8,142.4 1471.1,139.1 1481.5,136.1 1491.9,132.5 1502.3,128.6 1512.7,124.6 1523.1,120.7 1533.5,117.1 1543.9,113.7 1554.3,110.5 1564.7,107.4 1575.1,104.4 1585.4,101.4 1595.8,98.6 1606.2,95.7 1616.6,93.0 1627.0,90.3 1637.4,87.7 1647.8,85.2 1658.2,82.7 1668.6,80.2 1679.0,78.0 1689.4,75.8 1699.8,73.8 1710.1,71.9 1720.5,70.1 1710.1,75.6 1699.8,81.0 1689.4,86.3 1679.0,91.6 1668.6,96.6 1658.2,100.9 1647.8,105.1 1637.4,111.1 1627.0,119.3 1616.6,130.3 1606.2,143.4 1595.8,162.0 1585.4,191.2 1575.1,223.2 1564.7,261.5 1554.3,290.2 1543.9,315.8 1533.5,330.4 1523.1,339.3 1512.7,346.0 1502.3,351.1 1491.9,355.6 1481.5,359.5 1471.1,362.6 1460.8,365.9 1460.8,389.6 1450.4,400.0 1440.0,407.0 1429.6,412.5 1419.2,417.5 1408.8,422.0 1398.4,426.3 1388.0,430.6 1377.6,434.8 1367.2,438.9 1356.8,442.7 1346.4,446.3 1336.1,449.8 1325.7,453.5 1315.3,457.1 1304.9,460.8 1294.5,464.4 1284.1,468.2 1273.7,471.8 1263.3,475.3 1252.9,478.5 1242.5,481.5 1232.1,484.6 1221.7,488.0 1211.4,491.6 1201.0,495.3" fill="none" stroke="#000000" stroke-width="6.0" stroke-linejoin="round"/>
<use href="#m11" x="1201.0" y="495.3"/>
<use href="#m11" x="1211.4" y="484.5"/>
<use href="#m11" x="1221.7" y="473.8"/>
<use href="#m11" x="1232.1" y="463.4"/>
<use href="#m11" x="1242.5" y="452.9"/>
<use href="#m11" x="1252.9" y="441.8"/>
<use href="#m11" x="1263.3" y="430.3"/>
<use href="#m11" x="1273.7" y="419.2"/>
<use href="#m11" x="1284.1" y="406.3"/>
<use href="#m11" x="1294.5" y="387.4"/>
<use href="#m11" x="1304.9" y="363.2"/>
<use href="#m11" x="1315.3" y="335.4"/>
<use href="#m11" x="1325.7" y="295.2"/>
<use href="#m11" x="1336.1" y="266.1"/>
<use href="#m11" x="1346.4" y="238.4"/>
<use href="#m11" x="1356.8" y="216.1"/>
<use href="#m11" x="1367.2" y="202.3"/>
<use href="#m11" x="1377.6" y="190.6"/>
<use href="#m11" x="1388.0" y="181.6"/>
<use href="#m11" x="1398.4" y="174.4"/>
<use href="#m11" x="1408.8" y="167.9"/>
<use href="#m11" x="1419.2" y="161.9"/>
<use href="#m11" x="1429.6" y="156.5"/>
<use href="#m11" x="1440.0" y="151.6"/>
<use href="#m11" x="1450.4" y="146.7"/>
<use href="#m11" x="1460.8" y="142.4"/>
<use href="#m11" x="1471.1" y="139.1"/>
<use href="#m11" x="1481.5" y="136.1"/>
<use href="#m11" x="1491.9" y="132.5"/>
<use href="#m11" x="1502.3" y="128.6"/>
<use href="#m11" x="1512.7" y="124.6"/>
<use href="#m11" x="1523.1" y="120.7"/>
<use href="#m11" x="1533.5" y="117.1"/>
<use href="#m11" x="1543.9" y="113.7"/>
<use href="#m11" x="1554.3" y="110.5"/>
<use href="#m11" x="1564.7" y="107.4"/>
<use href="#m11" x="1575.1" y="104.4"/>
<use href="#m11" x="1585.4" y="101.4"/>
<use href="#m11" x="1595.8" y="98.6"/>
<use href="#m11" x="1606.2" y="95.7"/>
<use href="#m11" x="1616.6" y="93.0"/>
<use href="#m11" x="1627.0" y="90.3"/>
<use href="#m11" x="1637.4" y="87.7"/>
<use href="#m11" x="1647.8" y="85.2"/>
<use href="#m11" x="1658.2" y="82.7"/>
<use href="#m11" x="1668.6" y="80.2"/>
<use href="#m11" x="1679.0" y="78.0"/>
<use href="#m11" x="1689.4" y="75.8"/>
<use href="#m11" x="1699.8" y="73.8"/>
<use href="#m11" x="1710.1" y="71.9"/>
<use href="#m11" x="1720.5" y="70.1"/>
<use href="#m11" x="1710.1" y="75.6"/>
<use href="#m11" x="1699.8" y="81.0"/>
<use href="#m11" x="1689.4" y="86.3"/>
<use href="#m11" x="1679.0" y="91.6"/>
<use href="#m11" x="1668.6" y="96.6"/>
<use href="#m11" x="1658.2" y="100.9"/>
<use href="#m11" x="1647.8" y="105.1"/>
<use href="#m11" x="1637.4" y="111.1"/>
<use href="#m11" x="1627.0" y="119.3"/>
<use href="#m11" x="1616.6" y="130.3"/>
<use href="#m11" x="1606.2" y="143.4"/>
<use href="#m11" x="1595.8" y="162.0"/>
<use href="#m11" x="1585.4" y="191.2"/>
<use href="#m11" x="1575.1" y="223.2"/>
<use href="#m11" x="1564.7" y="261.5"/>
<use href="#m11" x="1554.3" y="290.2"/>
<use href="#m11" x="1543.9" y="315.8"/>
<use href="#m11" x="1533.5" y="330.4"/>
<use href="#m11" x="1523.1" y="339.3"/>
<use href="#m11" x="1512.7" y="346.0"/>
<use href="#m11" x="1502.3" y="351.1"/>
<use href="#m11" x="1491.9" y="355.6"/>
<use href="#m11" x="1481.5" y="359.5"/>
<use href="#m11" x="1471.1" y="362.6"/>
<use href="#m11" x="1460.8" y="365.9"/>
<use href="#m11" x="1460.8" y="389.6"/>
<use href="#m11" x="1450.4" y="400.0"/>
<use href="#m11" x="1440.0" y="407.0"/>
<use href="#m11" x="1429.6" y="412.5"/>
<use href="#m11" x="1419.2" y="417.5"/>
<use href="#m11" x="1408.8" y="422.0"/>
<use href="#m11" x="1398.4" y="426.3"/>
<use href="#m11" x="1388.0" y="430.6"/>
<use href="#m11" x="1377.6" y="434.8"/>
<use href="#m11" x="1367.2" y="438.9"/>
<use href="#m11" x="1356.8" y="442.7"/>
<use href="#m11" x="1346.4" y="446.3"/>
<use href="#m11" x="1336.1" y="449.8"/>
<use href="#m11" x="1325.7" y="453.5"/>
<use href="#m11" x="1315.3" y="457.1"/>
<use href="#m11" x="1304.9" y="460.8"/>
<use href="#m11" x="1294.5" y="464.4"/>
<use href="#m11" x="1284.1" y="468.2"/>
<use href="#m11" x="1273.7" y="471.8"/>
<use href="#m11" x="1263.3" y="475.3"/>
<use href="#m11" x="1252.9" y="478.5"/>
<use href="#m11" x="1242.5" y="481.5"/>
<use href="#m11" x="1232.1" y="484.6"/>
<use href="#m11" x="1221.7" y="488.0"/>
<use href="#m11" x="1211.4" y="491.6"/>
<use href="#m11" x="1201.0" y="495.3"/>
<rect x="1138.7" y="12.3" width="644.1" height="540.6" fill="none" stroke="#000" stroke-width="4.0"/>
<path d="M1138.7 552.9v12M1246.0 552.9v12M1353.4 552.9v12M1460.8 552.9v12M1568.1 552.9v12M1675.5 552.9v12M1782.8 552.9v12M1192.4 552.9v7M1299.7 552.9v7M1407.1 552.9v7M1514.4 552.9v7M1621.8 552.9v7M1729.1 552.9v7M1138.7 498.8h-12M1138.7 390.7h-12M1138.7 282.6h-12M1138.7 174.5h-12M1138.7 66.4h-12M1138.7 552.9h-7M1138.7 444.8h-7M1138.7 336.7h-7M1138.7 228.5h-7M1138.7 120.4h-7M1138.7 12.3h-7" stroke="#000" stroke-width="3.6" fill="none"/>
<text x="1138.7" y="601.7" text-anchor="middle">-1.5</text>
<text x="1246.0" y="601.7" text-anchor="middle">-1.0</text>
<text x="1353.4" y="601.7" text-anchor="middle">-0.5</text>
<text x="1460.8" y="601.7" text-anchor="middle">0.0</text>
<text x="1568.1" y="601.7" text-anchor="middle">0.5</text>
<text x="1675.5" y="601.7" text-anchor="middle">1.0</text>
<text x="1782.8" y="601.7" text-anchor="middle">1.5</text>
<text x="1124.0" y="511.8" text-anchor="end">-20</text>
<text x="1124.0" y="403.7" text-anchor="end">-10</text>
<text x="1124.0" y="295.6" text-anchor="end">0</text>
<text x="1124.0" y="187.5" text-anchor="end">10</text>
<text x="1124.0" y="79.4" text-anchor="end">20</text>
</g>
<g style="font-family:'Liberation Sans',Arial,sans-serif;font-size:42px" fill="#000">
<polyline points="393.4,1096.0 397.9,1092.0 402.4,1087.5 407.0,1082.5 411.5,1077.1 416.0,1071.1 420.5,1063.9 425.1,1056.1 429.6,1048.5 434.1,1041.8 438.7,1036.0 443.2,1030.5 447.7,1025.3 452.3,1020.5 456.8,1015.9 461.3,1011.7 465.8,1007.8 470.4,1004.1 474.9,1000.7 479.4,997.6 484.0,995.1 488.5,993.1 493.0,991.5 497.5,990.1 502.1,988.9 506.6,987.8 511.1,986.7 515.7,985.8 520.2,984.9 524.7,984.0 529.2,983.2 533.8,982.4 538.3,981.7 542.8,980.9 547.4,980.1 551.9,979.3 556.4,978.5 560.9,977.7 565.5,976.9 570.0,976.1 574.5,975.2 579.1,974.3 583.6,973.3 588.1,972.3 592.7,971.2 597.2,970.1 601.7,969.0 606.2,967.8 610.8,966.5 615.3,965.2 619.8,963.9 615.3,968.4 610.8,973.0 606.2,977.8 601.7,982.7 597.2,987.8 592.7,992.9 588.1,998.2 583.6,1003.7 579.1,1009.3 574.5,1015.0 570.0,1021.0 565.5,1027.6 560.9,1033.6 556.4,1038.0 551.9,1041.5 547.4,1044.4 542.8,1046.8 538.3,1048.9 533.8,1051.0 529.2,1052.9 524.7,1054.6 520.2,1056.2 515.7,1057.4 511.1,1058.4 506.6,1059.0 506.6,1062.5 502.1,1063.8 497.5,1065.1 493.0,1066.4 488.5,1067.7 484.0,1068.9 479.4,1070.2 474.9,1071.5 470.4,1072.8 465.8,1074.0 461.3,1075.3 456.8,1076.6 452.3,1077.8 447.7,1079.0 443.2,1080.2 438.7,1081.3 434.1,1082.5 429.6,1083.7 425.1,1085.0 420.5,1086.4 416.0,1087.9 411.5,1089.4 407.0,1091.0 402.4,1092.7 397.9,1094.4 393.4,1096.2" fill="none" stroke="#00ff00" stroke-width="6.5" stroke-linejoin="round"/>
<use href="#m5" x="393.4" y="1096.0"/>
<use href="#m5" x="397.9" y="1092.0"/>
<use href="#m5" x="402.4" y="1087.5"/>
<use href="#m5" x="407.0" y="1082.5"/>
<use href="#m5" x="411.5" y="1077.1"/>
<use href="#m5" x="416.0" y="1071.1"/>
<use href="#m5" x="420.5" y="1063.9"/>
<use href="#m5" x="425.1" y="1056.1"/>
<use href="#m5" x="429.6" y="1048.5"/>
<use href="#m5" x="434.1" y="1041.8"/>
<use href="#m5" x="438.7" y="1036.0"/>
<use href="#m5" x="443.2" y="1030.5"/>
<use href="#m5" x="447.7" y="1025.3"/>
<use href="#m5" x="452.3" y="1020.5"/>
<use href="#m5" x="456.8" y="1015.9"/>
<use href="#m5" x="461.3" y="1011.7"/>
<use href="#m5" x="465.8" y="1007.8"/>
<use href="#m5" x="470.4" y="1004.1"/>
<use href="#m5" x="474.9" y="1000.7"/>
<use href="#m5" x="479.4" y="997.6"/>
<use href="#m5" x="484.0" y="995.1"/>
<use href="#m5" x="488.5" y="993.1"/>
<use href="#m5" x="493.0" y="991.5"/>
<use href="#m5" x="497.5" y="990.1"/>
<use href="#m5" x="502.1" y="988.9"/>
<use href="#m5" x="506.6" y="987.8"/>
<use href="#m5" x="511.1" y="986.7"/>
<use href="#m5" x="515.7" y="985.8"/>
<use href="#m5" x="520.2" y="984.9"/>
<use href="#m5" x="524.7" y="984.0"/>
<use href="#m5" x="529.2" y="983.2"/>
<use href="#m5" x="533.8" y="982.4"/>
<use href="#m5" x="538.3" y="981.7"/>
<use href="#m5" x="542.8" y="980.9"/>
<use href="#m5" x="547.4" y="980.1"/>
<use href="#m5" x="551.9" y="979.3"/>
<use href="#m5" x="556.4" y="978.5"/>
<use href="#m5" x="560.9" y="977.7"/>
<use href="#m5" x="565.5" y="976.9"/>
<use href="#m5" x="570.0" y="976.1"/>
<use href="#m5" x="574.5" y="975.2"/>
<use href="#m5" x="579.1" y="974.3"/>
<use href="#m5" x="583.6" y="973.3"/>
<use href="#m5" x="588.1" y="972.3"/>
<use href="#m5" x="592.7" y="971.2"/>
<use href="#m5" x="597.2" y="970.1"/>
<use href="#m5" x="601.7" y="969.0"/>
<use href="#m5" x="606.2" y="967.8"/>
<use href="#m5" x="610.8" y="966.5"/>
<use href="#m5" x="615.3" y="965.2"/>
<use href="#m5" x="619.8" y="963.9"/>
<use href="#m5" x="615.3" y="968.4"/>
<use href="#m5" x="610.8" y="973.0"/>
<use href="#m5" x="606.2" y="977.8"/>
<use href="#m5" x="601.7" y="982.7"/>
<use href="#m5" x="597.2" y="987.8"/>
<use href="#m5" x="592.7" y="992.9"/>
<use href="#m5" x="588.1" y="998.2"/>
<use href="#m5" x="583.6" y="1003.7"/>
<use href="#m5" x="579.1" y="1009.3"/>
<use href="#m5" x="574.5" y="1015.0"/>
<use href="#m5" x="570.0" y="1021.0"/>
<use href="#m5" x="565.5" y="1027.6"/>
<use href="#m5" x="560.9" y="1033.6"/>
<use href="#m5" x="556.4" y="1038.0"/>
<use href="#m5" x="551.9" y="1041.5"/>
<use href="#m5" x="547.4" y="1044.4"/>
<use href="#m5" x="542.8" y="1046.8"/>
<use href="#m5" x="538.3" y="1048.9"/>
<use href="#m5" x="533.8" y="1051.0"/>
<use href="#m5" x="529.2" y="1052.9"/>
<use href="#m5" x="524.7" y="1054.6"/>
<use href="#m5" x="520.2" y="1056.2"/>
<use href="#m5" x="515.7" y="1057.4"/>
<use href="#m5" x="511.1" y="1058.4"/>
<use href="#m5" x="506.6" y="1059.0"/>
<use href="#m5" x="506.6" y="1062.5"/>
<use href="#m5" x="502.1" y="1063.8"/>
<use href="#m5" x="497.5" y="1065.1"/>
<use href="#m5" x="493.0" y="1066.4"/>
<use href="#m5" x="488.5" y="1067.7"/>
<use href="#m5" x="484.0" y="1068.9"/>
<use href="#m5" x="479.4" y="1070.2"/>
<use href="#m5" x="474.9" y="1071.5"/>
<use href="#m5" x="470.4" y="1072.8"/>
<use href="#m5" x="465.8" y="1074.0"/>
<use href="#m5" x="461.3" y="1075.3"/>
<use href="#m5" x="456.8" y="1076.6"/>
<use href="#m5" x="452.3" y="1077.8"/>
<use href="#m5" x="447.7" y="1079.0"/>
<use href="#m5" x="443.2" y="1080.2"/>
<use href="#m5" x="438.7" y="1081.3"/>
<use href="#m5" x="434.1" y="1082.5"/>
<use href="#m5" x="429.6" y="1083.7"/>
<use href="#m5" x="425.1" y="1085.0"/>
<use href="#m5" x="420.5" y="1086.4"/>
<use href="#m5" x="416.0" y="1087.9"/>
<use href="#m5" x="411.5" y="1089.4"/>
<use href="#m5" x="407.0" y="1091.0"/>
<use href="#m5" x="402.4" y="1092.7"/>
<use href="#m5" x="397.9" y="1094.4"/>
<use href="#m5" x="393.4" y="1096.2"/>
<polyline points="370.9,1132.7 376.4,1131.2 381.8,1127.2 387.2,1121.2 392.6,1113.9 398.1,1105.7 403.5,1091.9 408.9,1074.0 414.4,1057.5 419.8,1042.7 425.2,1028.7 430.6,1016.8 436.1,1006.6 441.5,997.8 446.9,990.7 452.3,984.9 457.8,980.0 463.2,975.5 468.6,971.0 474.0,966.4 479.5,962.4 484.9,959.5 490.3,957.5 495.7,955.8 501.2,954.2 506.6,952.8 512.0,951.6 517.5,950.4 522.9,949.4 528.3,948.4 533.7,947.5 539.2,946.6 544.6,945.7 550.0,944.7 555.4,943.7 560.9,942.7 566.3,941.8 571.7,941.0 577.1,940.2 582.6,939.4 588.0,938.6 593.4,937.8 598.8,936.9 604.3,936.0 609.7,935.0 615.1,933.9 620.6,932.7 626.0,931.3 631.4,929.7 636.8,928.1 642.3,926.4 636.8,931.0 631.4,936.0 626.0,941.4 620.6,947.0 615.1,952.9 609.7,959.1 604.3,965.4 598.8,971.6 593.4,978.1 588.0,985.7 582.6,995.5 577.1,1011.4 571.7,1030.5 566.3,1048.6 560.9,1062.2 555.4,1067.7 550.0,1071.6 544.6,1074.2 539.2,1076.0 533.7,1077.7 528.3,1079.2 522.9,1080.4 517.5,1081.3 512.0,1081.9 506.6,1082.2 506.6,1095.2 501.2,1096.9 495.7,1098.5 490.3,1100.0 484.9,1101.5 479.5,1102.9 474.0,1104.3 468.6,1105.6 463.2,1106.9 457.8,1108.3 452.3,1109.6 446.9,1110.9 441.5,1112.3 436.1,1113.6 430.6,1114.9 425.2,1116.3 419.8,1117.7 414.4,1119.1 408.9,1120.6 403.5,1122.1 398.1,1123.7 392.6,1125.3 387.2,1126.9 381.8,1128.6 376.4,1130.3 370.9,1132.1" fill="none" stroke="#8000ff" stroke-width="6.5" stroke-linejoin="round"/>
<use href="#m6" x="370.9" y="1132.7"/>
<use href="#m6" x="376.4" y="1131.2"/>
<use href="#m6" x="381.8" y="1127.2"/>
<use href="#m6" x="387.2" y="1121.2"/>
<use href="#m6" x="392.6" y="1113.9"/>
<use href="#m6" x="398.1" y="1105.7"/>
<use href="#m6" x="403.5" y="1091.9"/>
<use href="#m6" x="408.9" y="1074.0"/>
<use href="#m6" x="414.4" y="1057.5"/>
<use href="#m6" x="419.8" y="1042.7"/>
<use href="#m6" x="425.2" y="1028.7"/>
<use href="#m6" x="430.6" y="1016.8"/>
<use href="#m6" x="436.1" y="1006.6"/>
<use href="#m6" x="441.5" y="997.8"/>
<use href="#m6" x="446.9" y="990.7"/>
<use href="#m6" x="452.3" y="984.9"/>
<use href="#m6" x="457.8" y="980.0"/>
<use href="#m6" x="463.2" y="975.5"/>
<use href="#m6" x="468.6" y="971.0"/>
<use href="#m6" x="474.0" y="966.4"/>
<use href="#m6" x="479.5" y="962.4"/>
<use href="#m6" x="484.9" y="959.5"/>
<use href="#m6" x="490.3" y="957.5"/>
<use href="#m6" x="495.7" y="955.8"/>
<use href="#m6" x="501.2" y="954.2"/>
<use href="#m6" x="506.6" y="952.8"/>
<use href="#m6" x="512.0" y="951.6"/>
<use href="#m6" x="517.5" y="950.4"/>
<use href="#m6" x="522.9" y="949.4"/>
<use href="#m6" x="528.3" y="948.4"/>
<use href="#m6" x="533.7" y="947.5"/>
<use href="#m6" x="539.2" y="946.6"/>
<use href="#m6" x="544.6" y="945.7"/>
<use href="#m6" x="550.0" y="944.7"/>
<use href="#m6" x="555.4" y="943.7"/>
<use href="#m6" x="560.9" y="942.7"/>
<use href="#m6" x="566.3" y="941.8"/>
<use href="#m6" x="571.7" y="941.0"/>
<use href="#m6" x="577.1" y="940.2"/>
<use href="#m6" x="582.6" y="939.4"/>
<use href="#m6" x="588.0" y="938.6"/>
<use href="#m6" x="593.4" y="937.8"/>
<use href="#m6" x="598.8" y="936.9"/>
<use href="#m6" x="604.3" y="936.0"/>
<use href="#m6" x="609.7" y="935.0"/>
<use href="#m6" x="615.1" y="933.9"/>
<use href="#m6" x="620.6" y="932.7"/>
<use href="#m6" x="626.0" y="931.3"/>
<use href="#m6" x="631.4" y="929.7"/>
<use href="#m6" x="636.8" y="928.1"/>
<use href="#m6" x="642.3" y="926.4"/>
<use href="#m6" x="636.8" y="931.0"/>
<use href="#m6" x="631.4" y="936.0"/>
<use href="#m6" x="626.0" y="941.4"/>
<use href="#m6" x="620.6" y="947.0"/>
<use href="#m6" x="615.1" y="952.9"/>
<use href="#m6" x="609.7" y="959.1"/>
<use href="#m6" x="604.3" y="965.4"/>
<use href="#m6" x="598.8" y="971.6"/>
<use href="#m6" x="593.4" y="978.1"/>
<use href="#m6" x="588.0" y="985.7"/>
<use href="#m6" x="582.6" y="995.5"/>
<use href="#m6" x="577.1" y="1011.4"/>
<use href="#m6" x="571.7" y="1030.5"/>
<use href="#m6" x="566.3" y="1048.6"/>
<use href="#m6" x="560.9" y="1062.2"/>
<use href="#m6" x="555.4" y="1067.7"/>
<use href="#m6" x="550.0" y="1071.6"/>
<use href="#m6" x="544.6" y="1074.2"/>
<use href="#m6" x="539.2" y="1076.0"/>
<use href="#m6" x="533.7" y="1077.7"/>
<use href="#m6" x="528.3" y="1079.2"/>
<use href="#m6" x="522.9" y="1080.4"/>
<use href="#m6" x="517.5" y="1081.3"/>
<use href="#m6" x="512.0" y="1081.9"/>
<use href="#m6" x="506.6" y="1082.2"/>
<use href="#m6" x="506.6" y="1095.2"/>
<use href="#m6" x="501.2" y="1096.9"/>
<use href="#m6" x="495.7" y="1098.5"/>
<use href="#m6" x="490.3" y="1100.0"/>
<use href="#m6" x="484.9" y="1101.5"/>
<use href="#m6" x="479.5" y="1102.9"/>
<use href="#m6" x="474.0" y="1104.3"/>
<use href="#m6" x="468.6" y="1105.6"/>
<use href="#m6" x="463.2" y="1106.9"/>
<use href="#m6" x="457.8" y="1108.3"/>
<use href="#m6" x="452.3" y="1109.6"/>
<use href="#m6" x="446.9" y="1110.9"/>
<use href="#m6" x="441.5" y="1112.3"/>
<use href="#m6" x="436.1" y="1113.6"/>
<use href="#m6" x="430.6" y="1114.9"/>
<use href="#m6" x="425.2" y="1116.3"/>
<use href="#m6" x="419.8" y="1117.7"/>
<use href="#m6" x="414.4" y="1119.1"/>
<use href="#m6" x="408.9" y="1120.6"/>
<use href="#m6" x="403.5" y="1122.1"/>
<use href="#m6" x="398.1" y="1123.7"/>
<use href="#m6" x="392.6" y="1125.3"/>
<use href="#m6" x="387.2" y="1126.9"/>
<use href="#m6" x="381.8" y="1128.6"/>
<use href="#m6" x="376.4" y="1130.3"/>
<use href="#m6" x="370.9" y="1132.1"/>
<polyline points="348.0,1168.3 354.3,1166.3 360.7,1162.4 367.0,1157.0 373.4,1150.7 379.7,1143.5 386.0,1133.4 392.4,1121.0 398.7,1106.1 405.1,1084.7 411.4,1060.9 417.8,1040.6 424.1,1021.6 430.5,1005.0 436.8,991.1 443.1,979.0 449.5,968.5 455.8,959.6 462.2,952.2 468.5,946.1 474.9,940.6 481.2,935.3 487.6,932.2 493.9,930.2 500.3,928.4 506.6,927.0 512.9,925.7 519.3,924.6 525.6,923.6 532.0,922.7 538.3,921.7 544.7,920.7 551.0,919.6 557.4,918.4 563.7,917.1 570.1,915.9 576.4,914.6 582.7,913.4 589.1,912.1 595.4,910.8 601.8,909.5 608.1,908.0 614.5,906.5 620.8,904.9 627.2,903.1 633.5,901.3 639.8,899.3 646.2,897.3 652.5,895.2 658.9,893.0 665.2,890.8 658.9,893.5 652.5,897.1 646.2,901.5 639.8,906.4 633.5,911.9 627.2,917.7 620.8,923.9 614.5,930.4 608.1,937.8 601.8,946.4 595.4,956.3 589.1,968.4 582.7,983.4 576.4,1001.0 570.1,1024.1 563.7,1055.0 557.4,1083.0 551.0,1090.1 544.7,1094.3 538.3,1098.1 532.0,1101.1 525.6,1104.0 519.3,1107.1 512.9,1110.1 506.6,1113.1 506.6,1127.9 500.3,1128.8 493.9,1129.7 487.6,1130.8 481.2,1131.9 474.9,1133.0 468.5,1134.3 462.2,1135.6 455.8,1136.9 449.5,1138.3 443.1,1139.7 436.8,1141.3 430.5,1142.8 424.1,1144.5 417.8,1146.2 411.4,1147.9 405.1,1149.7 398.7,1151.5 392.4,1153.4 386.0,1155.4 379.7,1157.4 373.4,1159.5 367.0,1161.6 360.7,1163.8 354.3,1166.0 348.0,1168.3" fill="none" stroke="#ff00ff" stroke-width="6.5" stroke-linejoin="round"/>
<use href="#m7" x="348.0" y="1168.3"/>
<use href="#m7" x="354.3" y="1166.3"/>
<use href="#m7" x="360.7" y="1162.4"/>
<use href="#m7" x="367.0" y="1157.0"/>
<use href="#m7" x="373.4" y="1150.7"/>
<use href="#m7" x="379.7" y="1143.5"/>
<use href="#m7" x="386.0" y="1133.4"/>
<use href="#m7" x="392.4" y="1121.0"/>
<use href="#m7" x="398.7" y="1106.1"/>
<use href="#m7" x="405.1" y="1084.7"/>
<use href="#m7" x="411.4" y="1060.9"/>
<use href="#m7" x="417.8" y="1040.6"/>
<use href="#m7" x="424.1" y="1021.6"/>
<use href="#m7" x="430.5" y="1005.0"/>
<use href="#m7" x="436.8" y="991.1"/>
<use href="#m7" x="443.1" y="979.0"/>
<use href="#m7" x="449.5" y="968.5"/>
<use href="#m7" x="455.8" y="959.6"/>
<use href="#m7" x="462.2" y="952.2"/>
<use href="#m7" x="468.5" y="946.1"/>
<use href="#m7" x="474.9" y="940.6"/>
<use href="#m7" x="481.2" y="935.3"/>
<use href="#m7" x="487.6" y="932.2"/>
<use href="#m7" x="493.9" y="930.2"/>
<use href="#m7" x="500.3" y="928.4"/>
<use href="#m7" x="506.6" y="927.0"/>
<use href="#m7" x="512.9" y="925.7"/>
<use href="#m7" x="519.3" y="924.6"/>
<use href="#m7" x="525.6" y="923.6"/>
<use href="#m7" x="532.0" y="922.7"/>
<use href="#m7" x="538.3" y="921.7"/>
<use href="#m7" x="544.7" y="920.7"/>
<use href="#m7" x="551.0" y="919.6"/>
<use href="#m7" x="557.4" y="918.4"/>
<use href="#m7" x="563.7" y="917.1"/>
<use href="#m7" x="570.1" y="915.9"/>
<use href="#m7" x="576.4" y="914.6"/>
<use href="#m7" x="582.7" y="913.4"/>
<use href="#m7" x="589.1" y="912.1"/>
<use href="#m7" x="595.4" y="910.8"/>
<use href="#m7" x="601.8" y="909.5"/>
<use href="#m7" x="608.1" y="908.0"/>
<use href="#m7" x="614.5" y="906.5"/>
<use href="#m7" x="620.8" y="904.9"/>
<use href="#m7" x="627.2" y="903.1"/>
<use href="#m7" x="633.5" y="901.3"/>
<use href="#m7" x="639.8" y="899.3"/>
<use href="#m7" x="646.2" y="897.3"/>
<use href="#m7" x="652.5" y="895.2"/>
<use href="#m7" x="658.9" y="893.0"/>
<use href="#m7" x="665.2" y="890.8"/>
<use href="#m7" x="658.9" y="893.5"/>
<use href="#m7" x="652.5" y="897.1"/>
<use href="#m7" x="646.2" y="901.5"/>
<use href="#m7" x="639.8" y="906.4"/>
<use href="#m7" x="633.5" y="911.9"/>
<use href="#m7" x="627.2" y="917.7"/>
<use href="#m7" x="620.8" y="923.9"/>
<use href="#m7" x="614.5" y="930.4"/>
<use href="#m7" x="608.1" y="937.8"/>
<use href="#m7" x="601.8" y="946.4"/>
<use href="#m7" x="595.4" y="956.3"/>
<use href="#m7" x="589.1" y="968.4"/>
<use href="#m7" x="582.7" y="983.4"/>
<use href="#m7" x="576.4" y="1001.0"/>
<use href="#m7" x="570.1" y="1024.1"/>
<use href="#m7" x="563.7" y="1055.0"/>
<use href="#m7" x="557.4" y="1083.0"/>
<use href="#m7" x="551.0" y="1090.1"/>
<use href="#m7" x="544.7" y="1094.3"/>
<use href="#m7" x="538.3" y="1098.1"/>
<use href="#m7" x="532.0" y="1101.1"/>
<use href="#m7" x="525.6" y="1104.0"/>
<use href="#m7" x="519.3" y="1107.1"/>
<use href="#m7" x="512.9" y="1110.1"/>
<use href="#m7" x="506.6" y="1113.1"/>
<use href="#m7" x="506.6" y="1127.9"/>
<use href="#m7" x="500.3" y="1128.8"/>
<use href="#m7" x="493.9" y="1129.7"/>
<use href="#m7" x="487.6" y="1130.8"/>
<use href="#m7" x="481.2" y="1131.9"/>
<use href="#m7" x="474.9" y="1133.0"/>
<use href="#m7" x="468.5" y="1134.3"/>
<use href="#m7" x="462.2" y="1135.6"/>
<use href="#m7" x="455.8" y="1136.9"/>
<use href="#m7" x="449.5" y="1138.3"/>
<use href="#m7" x="443.1" y="1139.7"/>
<use href="#m7" x="436.8" y="1141.3"/>
<use href="#m7" x="430.5" y="1142.8"/>
<use href="#m7" x="424.1" y="1144.5"/>
<use href="#m7" x="417.8" y="1146.2"/>
<use href="#m7" x="411.4" y="1147.9"/>
<use href="#m7" x="405.1" y="1149.7"/>
<use href="#m7" x="398.7" y="1151.5"/>
<use href="#m7" x="392.4" y="1153.4"/>
<use href="#m7" x="386.0" y="1155.4"/>
<use href="#m7" x="379.7" y="1157.4"/>
<use href="#m7" x="373.4" y="1159.5"/>
<use href="#m7" x="367.0" y="1161.6"/>
<use href="#m7" x="360.7" y="1163.8"/>
<use href="#m7" x="354.3" y="1166.0"/>
<use href="#m7" x="348.0" y="1168.3"/>
<polyline points="327.2,1195.7 334.4,1191.7 341.5,1187.2 348.7,1182.0 355.9,1176.5 363.1,1170.5 370.2,1163.5 377.4,1155.0 384.6,1144.7 391.8,1131.6 399.0,1113.9 406.1,1083.1 413.3,1049.0 420.5,1018.2 427.7,989.9 434.8,968.3 442.0,950.0 449.2,937.7 456.4,930.4 463.5,924.2 470.7,918.9 477.9,914.5 485.1,910.7 492.2,907.5 499.4,904.6 506.6,902.0 513.8,899.6 521.0,897.5 528.1,895.6 535.3,893.8 542.5,892.2 549.7,890.6 556.8,889.1 564.0,887.6 571.2,886.1 578.4,884.5 585.5,883.0 592.7,881.5 599.9,880.1 607.1,878.6 614.2,877.3 621.4,875.9 628.6,874.5 635.8,873.1 643.0,871.7 650.1,870.2 657.3,868.7 664.5,867.1 671.7,865.5 678.8,863.9 686.0,862.2 678.8,865.9 671.7,870.1 664.5,875.0 657.3,880.4 650.1,886.1 643.0,892.2 635.8,898.9 628.6,906.5 621.4,915.3 614.2,925.6 607.1,939.1 599.9,955.6 592.7,974.2 585.5,996.5 578.4,1022.6 571.2,1054.5 564.0,1088.8 556.8,1104.0 549.7,1111.4 542.5,1116.3 535.3,1120.7 528.1,1124.8 521.0,1128.2 513.8,1130.5 506.6,1131.5 506.6,1148.1 499.4,1150.0 492.2,1152.0 485.1,1153.9 477.9,1155.9 470.7,1157.8 463.5,1159.8 456.4,1161.7 449.2,1163.7 442.0,1165.8 434.8,1168.0 427.7,1170.4 420.5,1172.9 413.3,1175.2 406.1,1177.4 399.0,1179.3 391.8,1180.9 384.6,1182.1 377.4,1183.3 370.2,1184.4 363.1,1185.5 355.9,1186.9 348.7,1188.5 341.5,1190.6 334.4,1193.1 327.2,1195.7" fill="none" stroke="#c0c0c0" stroke-width="6.5" stroke-linejoin="round"/>
<use href="#m9" x="327.2" y="1195.7"/>
<use href="#m9" x="334.4" y="1191.7"/>
<use href="#m9" x="341.5" y="1187.2"/>
<use href="#m9" x="348.7" y="1182.0"/>
<use href="#m9" x="355.9" y="1176.5"/>
<use href="#m9" x="363.1" y="1170.5"/>
<use href="#m9" x="370.2" y="1163.5"/>
<use href="#m9" x="377.4" y="1155.0"/>
<use href="#m9" x="384.6" y="1144.7"/>
<use href="#m9" x="391.8" y="1131.6"/>
<use href="#m9" x="399.0" y="1113.9"/>
<use href="#m9" x="406.1" y="1083.1"/>
<use href="#m9" x="413.3" y="1049.0"/>
<use href="#m9" x="420.5" y="1018.2"/>
<use href="#m9" x="427.7" y="989.9"/>
<use href="#m9" x="434.8" y="968.3"/>
<use href="#m9" x="442.0" y="950.0"/>
<use href="#m9" x="449.2" y="937.7"/>
<use href="#m9" x="456.4" y="930.4"/>
<use href="#m9" x="463.5" y="924.2"/>
<use href="#m9" x="470.7" y="918.9"/>
<use href="#m9" x="477.9" y="914.5"/>
<use href="#m9" x="485.1" y="910.7"/>
<use href="#m9" x="492.2" y="907.5"/>
<use href="#m9" x="499.4" y="904.6"/>
<use href="#m9" x="506.6" y="902.0"/>
<use href="#m9" x="513.8" y="899.6"/>
<use href="#m9" x="521.0" y="897.5"/>
<use href="#m9" x="528.1" y="895.6"/>
<use href="#m9" x="535.3" y="893.8"/>
<use href="#m9" x="542.5" y="892.2"/>
<use href="#m9" x="549.7" y="890.6"/>
<use href="#m9" x="556.8" y="889.1"/>
<use href="#m9" x="564.0" y="887.6"/>
<use href="#m9" x="571.2" y="886.1"/>
<use href="#m9" x="578.4" y="884.5"/>
<use href="#m9" x="585.5" y="883.0"/>
<use href="#m9" x="592.7" y="881.5"/>
<use href="#m9" x="599.9" y="880.1"/>
<use href="#m9" x="607.1" y="878.6"/>
<use href="#m9" x="614.2" y="877.3"/>
<use href="#m9" x="621.4" y="875.9"/>
<use href="#m9" x="628.6" y="874.5"/>
<use href="#m9" x="635.8" y="873.1"/>
<use href="#m9" x="643.0" y="871.7"/>
<use href="#m9" x="650.1" y="870.2"/>
<use href="#m9" x="657.3" y="868.7"/>
<use href="#m9" x="664.5" y="867.1"/>
<use href="#m9" x="671.7" y="865.5"/>
<use href="#m9" x="678.8" y="863.9"/>
<use href="#m9" x="686.0" y="862.2"/>
<use href="#m9" x="678.8" y="865.9"/>
<use href="#m9" x="671.7" y="870.1"/>
<use href="#m9" x="664.5" y="875.0"/>
<use href="#m9" x="657.3" y="880.4"/>
<use href="#m9" x="650.1" y="886.1"/>
<use href="#m9" x="643.0" y="892.2"/>
<use href="#m9" x="635.8" y="898.9"/>
<use href="#m9" x="628.6" y="906.5"/>
<use href="#m9" x="621.4" y="915.3"/>
<use href="#m9" x="614.2" y="925.6"/>
<use href="#m9" x="607.1" y="939.1"/>
<use href="#m9" x="599.9" y="955.6"/>
<use href="#m9" x="592.7" y="974.2"/>
<use href="#m9" x="585.5" y="996.5"/>
<use href="#m9" x="578.4" y="1022.6"/>
<use href="#m9" x="571.2" y="1054.5"/>
<use href="#m9" x="564.0" y="1088.8"/>
<use href="#m9" x="556.8" y="1104.0"/>
<use href="#m9" x="549.7" y="1111.4"/>
<use href="#m9" x="542.5" y="1116.3"/>
<use href="#m9" x="535.3" y="1120.7"/>
<use href="#m9" x="528.1" y="1124.8"/>
<use href="#m9" x="521.0" y="1128.2"/>
<use href="#m9" x="513.8" y="1130.5"/>
<use href="#m9" x="506.6" y="1131.5"/>
<use href="#m9" x="506.6" y="1148.1"/>
<use href="#m9" x="499.4" y="1150.0"/>
<use href="#m9" x="492.2" y="1152.0"/>
<use href="#m9" x="485.1" y="1153.9"/>
<use href="#m9" x="477.9" y="1155.9"/>
<use href="#m9" x="470.7" y="1157.8"/>
<use href="#m9" x="463.5" y="1159.8"/>
<use href="#m9" x="456.4" y="1161.7"/>
<use href="#m9" x="449.2" y="1163.7"/>
<use href="#m9" x="442.0" y="1165.8"/>
<use href="#m9" x="434.8" y="1168.0"/>
<use href="#m9" x="427.7" y="1170.4"/>
<use href="#m9" x="420.5" y="1172.9"/>
<use href="#m9" x="413.3" y="1175.2"/>
<use href="#m9" x="406.1" y="1177.4"/>
<use href="#m9" x="399.0" y="1179.3"/>
<use href="#m9" x="391.8" y="1180.9"/>
<use href="#m9" x="384.6" y="1182.1"/>
<use href="#m9" x="377.4" y="1183.3"/>
<use href="#m9" x="370.2" y="1184.4"/>
<use href="#m9" x="363.1" y="1185.5"/>
<use href="#m9" x="355.9" y="1186.9"/>
<use href="#m9" x="348.7" y="1188.5"/>
<use href="#m9" x="341.5" y="1190.6"/>
<use href="#m9" x="334.4" y="1193.1"/>
<use href="#m9" x="327.2" y="1195.7"/>
<polyline points="282.3,1234.3 291.3,1230.9 300.3,1227.1 309.2,1222.9 318.2,1218.3 327.2,1213.5 336.2,1208.1 345.1,1202.2 354.1,1195.8 363.1,1189.4 372.0,1182.0 381.0,1172.2 390.0,1155.9 399.0,1131.2 407.9,1090.5 416.9,1029.7 425.9,969.2 434.8,930.5 443.8,913.5 452.8,904.2 461.7,897.1 470.7,891.3 479.7,886.4 488.7,882.3 497.6,878.7 506.6,875.5 515.6,872.8 524.5,870.3 533.5,868.1 542.5,866.1 551.5,864.1 560.4,862.2 569.4,860.2 578.4,858.0 587.3,855.7 596.3,853.4 605.3,851.0 614.2,848.7 623.2,846.4 632.2,844.1 641.2,842.0 650.1,839.9 659.1,838.0 668.1,836.2 677.0,834.3 686.0,832.6 695.0,830.9 704.0,829.3 712.9,827.7 721.9,826.2 730.9,824.8 721.9,828.1 712.9,831.6 704.0,835.4 695.0,839.4 686.0,843.5 677.0,847.8 668.1,852.3 659.1,857.1 650.1,862.6 641.2,868.4 632.2,874.7 623.2,882.8 614.2,894.3 605.3,917.8 596.3,950.6 587.3,993.4 578.4,1045.7 569.4,1100.0 560.4,1114.6 551.5,1126.1 542.5,1134.9 533.5,1138.8 524.5,1142.0 515.6,1146.3 506.6,1151.1 506.6,1166.5 497.6,1170.2 488.7,1173.8 479.7,1177.5 470.7,1180.9 461.7,1184.0 452.8,1186.9 443.8,1189.7 434.8,1192.2 425.9,1194.3 416.9,1196.1 407.9,1197.6 399.0,1199.1 390.0,1200.5 381.0,1202.1 372.0,1204.0 363.1,1205.9 354.1,1207.8 345.1,1209.8 336.2,1212.0 327.2,1214.4 318.2,1217.1 309.2,1220.1 300.3,1223.5 291.3,1228.3 282.3,1234.3" fill="none" stroke="#000080" stroke-width="6.5" stroke-linejoin="round"/>
<use href="#m8" x="282.3" y="1234.3"/>
<use href="#m8" x="291.3" y="1230.9"/>
<use href="#m8" x="300.3" y="1227.1"/>
<use href="#m8" x="309.2" y="1222.9"/>
<use href="#m8" x="318.2" y="1218.3"/>
<use href="#m8" x="327.2" y="1213.5"/>
<use href="#m8" x="336.2" y="1208.1"/>
<use href="#m8" x="345.1" y="1202.2"/>
<use href="#m8" x="354.1" y="1195.8"/>
<use href="#m8" x="363.1" y="1189.4"/>
<use href="#m8" x="372.0" y="1182.0"/>
<use href="#m8" x="381.0" y="1172.2"/>
<use href="#m8" x="390.0" y="1155.9"/>
<use href="#m8" x="399.0" y="1131.2"/>
<use href="#m8" x="407.9" y="1090.5"/>
<use href="#m8" x="416.9" y="1029.7"/>
<use href="#m8" x="425.9" y="969.2"/>
<use href="#m8" x="434.8" y="930.5"/>
<use href="#m8" x="443.8" y="913.5"/>
<use href="#m8" x="452.8" y="904.2"/>
<use href="#m8" x="461.7" y="897.1"/>
<use href="#m8" x="470.7" y="891.3"/>
<use href="#m8" x="479.7" y="886.4"/>
<use href="#m8" x="488.7" y="882.3"/>
<use href="#m8" x="497.6" y="878.7"/>
<use href="#m8" x="506.6" y="875.5"/>
<use href="#m8" x="515.6" y="872.8"/>
<use href="#m8" x="524.5" y="870.3"/>
<use href="#m8" x="533.5" y="868.1"/>
<use href="#m8" x="542.5" y="866.1"/>
<use href="#m8" x="551.5" y="864.1"/>
<use href="#m8" x="560.4" y="862.2"/>
<use href="#m8" x="569.4" y="860.2"/>
<use href="#m8" x="578.4" y="858.0"/>
<use href="#m8" x="587.3" y="855.7"/>
<use href="#m8" x="596.3" y="853.4"/>
<use href="#m8" x="605.3" y="851.0"/>
<use href="#m8" x="614.2" y="848.7"/>
<use href="#m8" x="623.2" y="846.4"/>
<use href="#m8" x="632.2" y="844.1"/>
<use href="#m8" x="641.2" y="842.0"/>
<use href="#m8" x="650.1" y="839.9"/>
<use href="#m8" x="659.1" y="838.0"/>
<use href="#m8" x="668.1" y="836.2"/>
<use href="#m8" x="677.0" y="834.3"/>
<use href="#m8" x="686.0" y="832.6"/>
<use href="#m8" x="695.0" y="830.9"/>
<use href="#m8" x="704.0" y="829.3"/>
<use href="#m8" x="712.9" y="827.7"/>
<use href="#m8" x="721.9" y="826.2"/>
<use href="#m8" x="730.9" y="824.8"/>
<use href="#m8" x="721.9" y="828.1"/>
<use href="#m8" x="712.9" y="831.6"/>
<use href="#m8" x="704.0" y="835.4"/>
<use href="#m8" x="695.0" y="839.4"/>
<use href="#m8" x="686.0" y="843.5"/>
<use href="#m8" x="677.0" y="847.8"/>
<use href="#m8" x="668.1" y="852.3"/>
<use href="#m8" x="659.1" y="857.1"/>
<use href="#m8" x="650.1" y="862.6"/>
<use href="#m8" x="641.2" y="868.4"/>
<use href="#m8" x="632.2" y="874.7"/>
<use href="#m8" x="623.2" y="882.8"/>
<use href="#m8" x="614.2" y="894.3"/>
<use href="#m8" x="605.3" y="917.8"/>
<use href="#m8" x="596.3" y="950.6"/>
<use href="#m8" x="587.3" y="993.4"/>
<use href="#m8" x="578.4" y="1045.7"/>
<use href="#m8" x="569.4" y="1100.0"/>
<use href="#m8" x="560.4" y="1114.6"/>
<use href="#m8" x="551.5" y="1126.1"/>
<use href="#m8" x="542.5" y="1134.9"/>
<use href="#m8" x="533.5" y="1138.8"/>
<use href="#m8" x="524.5" y="1142.0"/>
<use href="#m8" x="515.6" y="1146.3"/>
<use href="#m8" x="506.6" y="1151.1"/>
<use href="#m8" x="506.6" y="1166.5"/>
<use href="#m8" x="497.6" y="1170.2"/>
<use href="#m8" x="488.7" y="1173.8"/>
<use href="#m8" x="479.7" y="1177.5"/>
<use href="#m8" x="470.7" y="1180.9"/>
<use href="#m8" x="461.7" y="1184.0"/>
<use href="#m8" x="452.8" y="1186.9"/>
<use href="#m8" x="443.8" y="1189.7"/>
<use href="#m8" x="434.8" y="1192.2"/>
<use href="#m8" x="425.9" y="1194.3"/>
<use href="#m8" x="416.9" y="1196.1"/>
<use href="#m8" x="407.9" y="1197.6"/>
<use href="#m8" x="399.0" y="1199.1"/>
<use href="#m8" x="390.0" y="1200.5"/>
<use href="#m8" x="381.0" y="1202.1"/>
<use href="#m8" x="372.0" y="1204.0"/>
<use href="#m8" x="363.1" y="1205.9"/>
<use href="#m8" x="354.1" y="1207.8"/>
<use href="#m8" x="345.1" y="1209.8"/>
<use href="#m8" x="336.2" y="1212.0"/>
<use href="#m8" x="327.2" y="1214.4"/>
<use href="#m8" x="318.2" y="1217.1"/>
<use href="#m8" x="309.2" y="1220.1"/>
<use href="#m8" x="300.3" y="1223.5"/>
<use href="#m8" x="291.3" y="1228.3"/>
<use href="#m8" x="282.3" y="1234.3"/>
<polyline points="249.5,1252.7 259.8,1248.2 270.1,1243.6 280.4,1238.9 290.6,1234.2 300.9,1229.5 311.2,1224.7 321.5,1219.6 331.8,1214.0 342.1,1207.7 352.3,1200.6 362.6,1192.0 372.9,1181.2 383.2,1166.3 393.5,1140.6 403.8,1101.3 414.0,1046.4 424.3,962.9 434.6,914.4 444.9,892.7 455.2,885.3 465.5,880.3 475.7,875.6 486.0,871.5 496.3,867.7 506.6,864.3 516.9,861.1 527.2,858.1 537.5,855.1 547.7,852.1 558.0,849.3 568.3,846.7 578.6,844.1 588.9,841.6 599.2,839.3 609.4,836.9 619.7,834.6 630.0,832.4 640.3,830.3 650.6,828.2 660.9,826.2 671.1,824.2 681.4,822.2 691.7,820.2 702.0,818.3 712.3,816.3 722.6,814.4 732.8,812.5 743.1,810.6 753.4,808.8 763.7,807.0 753.4,811.0 743.1,815.0 732.8,819.1 722.6,823.1 712.3,827.2 702.0,831.4 691.7,835.3 681.4,839.1 671.1,843.3 660.9,848.0 650.6,853.1 640.3,858.7 630.0,866.3 619.7,878.7 609.4,906.8 599.2,940.2 588.9,996.9 578.6,1061.7 568.3,1108.1 558.0,1136.2 547.7,1147.7 537.5,1155.2 527.2,1161.7 516.9,1166.6 506.6,1168.9 506.6,1178.4 496.3,1181.9 486.0,1185.7 475.7,1189.6 465.5,1193.3 455.2,1196.8 444.9,1200.3 434.6,1203.5 424.3,1206.5 414.0,1209.2 403.8,1211.7 393.5,1214.0 383.2,1216.2 372.9,1218.5 362.6,1220.8 352.3,1223.3 342.1,1226.0 331.8,1228.8 321.5,1231.6 311.2,1234.6 300.9,1237.6 290.6,1240.6 280.4,1243.6 270.1,1246.6 259.8,1249.6 249.5,1252.7" fill="none" stroke="#ff0000" stroke-width="6.5" stroke-linejoin="round"/>
<use href="#m10" x="249.5" y="1252.7"/>
<use href="#m10" x="259.8" y="1248.2"/>
<use href="#m10" x="270.1" y="1243.6"/>
<use href="#m10" x="280.4" y="1238.9"/>
<use href="#m10" x="290.6" y="1234.2"/>
<use href="#m10" x="300.9" y="1229.5"/>
<use href="#m10" x="311.2" y="1224.7"/>
<use href="#m10" x="321.5" y="1219.6"/>
<use href="#m10" x="331.8" y="1214.0"/>
<use href="#m10" x="342.1" y="1207.7"/>
<use href="#m10" x="352.3" y="1200.6"/>
<use href="#m10" x="362.6" y="1192.0"/>
<use href="#m10" x="372.9" y="1181.2"/>
<use href="#m10" x="383.2" y="1166.3"/>
<use href="#m10" x="393.5" y="1140.6"/>
<use href="#m10" x="403.8" y="1101.3"/>
<use href="#m10" x="414.0" y="1046.4"/>
<use href="#m10" x="424.3" y="962.9"/>
<use href="#m10" x="434.6" y="914.4"/>
<use href="#m10" x="444.9" y="892.7"/>
<use href="#m10" x="455.2" y="885.3"/>
<use href="#m10" x="465.5" y="880.3"/>
<use href="#m10" x="475.7" y="875.6"/>
<use href="#m10" x="486.0" y="871.5"/>
<use href="#m10" x="496.3" y="867.7"/>
<use href="#m10" x="506.6" y="864.3"/>
<use href="#m10" x="516.9" y="861.1"/>
<use href="#m10" x="527.2" y="858.1"/>
<use href="#m10" x="537.5" y="855.1"/>
<use href="#m10" x="547.7" y="852.1"/>
<use href="#m10" x="558.0" y="849.3"/>
<use href="#m10" x="568.3" y="846.7"/>
<use href="#m10" x="578.6" y="844.1"/>
<use href="#m10" x="588.9" y="841.6"/>
<use href="#m10" x="599.2" y="839.3"/>
<use href="#m10" x="609.4" y="836.9"/>
<use href="#m10" x="619.7" y="834.6"/>
<use href="#m10" x="630.0" y="832.4"/>
<use href="#m10" x="640.3" y="830.3"/>
<use href="#m10" x="650.6" y="828.2"/>
<use href="#m10" x="660.9" y="826.2"/>
<use href="#m10" x="671.1" y="824.2"/>
<use href="#m10" x="681.4" y="822.2"/>
<use href="#m10" x="691.7" y="820.2"/>
<use href="#m10" x="702.0" y="818.3"/>
<use href="#m10" x="712.3" y="816.3"/>
<use href="#m10" x="722.6" y="814.4"/>
<use href="#m10" x="732.8" y="812.5"/>
<use href="#m10" x="743.1" y="810.6"/>
<use href="#m10" x="753.4" y="808.8"/>
<use href="#m10" x="763.7" y="807.0"/>
<use href="#m10" x="753.4" y="811.0"/>
<use href="#m10" x="743.1" y="815.0"/>
<use href="#m10" x="732.8" y="819.1"/>
<use href="#m10" x="722.6" y="823.1"/>
<use href="#m10" x="712.3" y="827.2"/>
<use href="#m10" x="702.0" y="831.4"/>
<use href="#m10" x="691.7" y="835.3"/>
<use href="#m10" x="681.4" y="839.1"/>
<use href="#m10" x="671.1" y="843.3"/>
<use href="#m10" x="660.9" y="848.0"/>
<use href="#m10" x="650.6" y="853.1"/>
<use href="#m10" x="640.3" y="858.7"/>
<use href="#m10" x="630.0" y="866.3"/>
<use href="#m10" x="619.7" y="878.7"/>
<use href="#m10" x="609.4" y="906.8"/>
<use href="#m10" x="599.2" y="940.2"/>
<use href="#m10" x="588.9" y="996.9"/>
<use href="#m10" x="578.6" y="1061.7"/>
<use href="#m10" x="568.3" y="1108.1"/>
<use href="#m10" x="558.0" y="1136.2"/>
<use href="#m10" x="547.7" y="1147.7"/>
<use href="#m10" x="537.5" y="1155.2"/>
<use href="#m10" x="527.2" y="1161.7"/>
<use href="#m10" x="516.9" y="1166.6"/>
<use href="#m10" x="506.6" y="1168.9"/>
<use href="#m10" x="506.6" y="1178.4"/>
<use href="#m10" x="496.3" y="1181.9"/>
<use href="#m10" x="486.0" y="1185.7"/>
<use href="#m10" x="475.7" y="1189.6"/>
<use href="#m10" x="465.5" y="1193.3"/>
<use href="#m10" x="455.2" y="1196.8"/>
<use href="#m10" x="444.9" y="1200.3"/>
<use href="#m10" x="434.6" y="1203.5"/>
<use href="#m10" x="424.3" y="1206.5"/>
<use href="#m10" x="414.0" y="1209.2"/>
<use href="#m10" x="403.8" y="1211.7"/>
<use href="#m10" x="393.5" y="1214.0"/>
<use href="#m10" x="383.2" y="1216.2"/>
<use href="#m10" x="372.9" y="1218.5"/>
<use href="#m10" x="362.6" y="1220.8"/>
<use href="#m10" x="352.3" y="1223.3"/>
<use href="#m10" x="342.1" y="1226.0"/>
<use href="#m10" x="331.8" y="1228.8"/>
<use href="#m10" x="321.5" y="1231.6"/>
<use href="#m10" x="311.2" y="1234.6"/>
<use href="#m10" x="300.9" y="1237.6"/>
<use href="#m10" x="290.6" y="1240.6"/>
<use href="#m10" x="280.4" y="1243.6"/>
<use href="#m10" x="270.1" y="1246.6"/>
<use href="#m10" x="259.8" y="1249.6"/>
<use href="#m10" x="249.5" y="1252.7"/>
<polyline points="209.0,1281.3 220.9,1276.7 232.8,1272.1 244.7,1267.5 256.6,1262.7 268.5,1257.9 280.4,1253.1 292.4,1248.5 304.3,1243.7 316.2,1238.7 328.1,1233.9 340.0,1228.7 351.9,1222.5 363.8,1214.7 375.7,1203.9 387.6,1186.0 399.5,1155.5 411.4,1076.5 423.3,985.7 435.2,900.5 447.1,879.3 459.0,870.5 470.9,864.4 482.8,859.4 494.7,855.1 506.6,851.1 518.5,847.3 530.4,843.8 542.3,840.5 554.2,837.6 566.1,834.7 578.0,831.7 589.9,828.2 601.8,824.4 613.7,820.9 625.6,817.7 637.5,814.8 649.4,811.9 661.3,808.9 673.2,805.8 685.1,802.9 697.0,800.2 708.9,797.8 720.8,795.5 732.8,793.1 744.7,790.7 756.6,788.3 768.5,785.9 780.4,783.6 792.3,781.2 804.2,778.8 792.3,785.7 780.4,791.9 768.5,797.1 756.6,801.3 744.7,804.9 732.8,808.1 720.8,810.8 708.9,813.0 697.0,815.3 685.1,818.0 673.2,820.9 661.3,824.6 649.4,830.3 637.5,841.7 625.6,854.7 613.7,875.8 601.8,928.6 589.9,1055.5 578.0,1125.6 566.1,1160.9 554.2,1169.7 542.3,1174.7 530.4,1180.1 518.5,1184.9 506.6,1189.0 506.6,1197.5 494.7,1200.5 482.8,1204.8 470.9,1209.4 459.0,1213.4 447.1,1217.0 435.2,1220.5 423.3,1224.0 411.4,1227.6 399.5,1231.2 387.6,1234.6 375.7,1237.7 363.8,1240.6 351.9,1243.6 340.0,1246.5 328.1,1249.5 316.2,1252.5 304.3,1255.4 292.4,1258.3 280.4,1261.3 268.5,1264.7 256.6,1268.3 244.7,1272.0 232.8,1275.3 220.9,1278.4 209.0,1281.3" fill="none" stroke="#000000" stroke-width="6.5" stroke-linejoin="round"/>
<use href="#m11" x="209.0" y="1281.3"/>
<use href="#m11" x="220.9" y="1276.7"/>
<use href="#m11" x="232.8" y="1272.1"/>
<use href="#m11" x="244.7" y="1267.5"/>
<use href="#m11" x="256.6" y="1262.7"/>
<use href="#m11" x="268.5" y="1257.9"/>
<use href="#m11" x="280.4" y="1253.1"/>
<use href="#m11" x="292.4" y="1248.5"/>
<use href="#m11" x="304.3" y="1243.7"/>
<use href="#m11" x="316.2" y="1238.7"/>
<use href="#m11" x="328.1" y="1233.9"/>
<use href="#m11" x="340.0" y="1228.7"/>
<use href="#m11" x="351.9" y="1222.5"/>
<use href="#m11" x="363.8" y="1214.7"/>
<use href="#m11" x="375.7" y="1203.9"/>
<use href="#m11" x="387.6" y="1186.0"/>
<use href="#m11" x="399.5" y="1155.5"/>
<use href="#m11" x="411.4" y="1076.5"/>
<use href="#m11" x="423.3" y="985.7"/>
<use href="#m11" x="435.2" y="900.5"/>
<use href="#m11" x="447.1" y="879.3"/>
<use href="#m11" x="459.0" y="870.5"/>
<use href="#m11" x="470.9" y="864.4"/>
<use href="#m11" x="482.8" y="859.4"/>
<use href="#m11" x="494.7" y="855.1"/>
<use href="#m11" x="506.6" y="851.1"/>
<use href="#m11" x="518.5" y="847.3"/>
<use href="#m11" x="530.4" y="843.8"/>
<use href="#m11" x="542.3" y="840.5"/>
<use href="#m11" x="554.2" y="837.6"/>
<use href="#m11" x="566.1" y="834.7"/>
<use href="#m11" x="578.0" y="831.7"/>
<use href="#m11" x="589.9" y="828.2"/>
<use href="#m11" x="601.8" y="824.4"/>
<use href="#m11" x="613.7" y="820.9"/>
<use href="#m11" x="625.6" y="817.7"/>
<use href="#m11" x="637.5" y="814.8"/>
<use href="#m11" x="649.4" y="811.9"/>
<use href="#m11" x="661.3" y="808.9"/>
<use href="#m11" x="673.2" y="805.8"/>
<use href="#m11" x="685.1" y="802.9"/>
<use href="#m11" x="697.0" y="800.2"/>
<use href="#m11" x="708.9" y="797.8"/>
<use href="#m11" x="720.8" y="795.5"/>
<use href="#m11" x="732.8" y="793.1"/>
<use href="#m11" x="744.7" y="790.7"/>
<use href="#m11" x="756.6" y="788.3"/>
<use href="#m11" x="768.5" y="785.9"/>
<use href="#m11" x="780.4" y="783.6"/>
<use href="#m11" x="792.3" y="781.2"/>
<use href="#m11" x="804.2" y="778.8"/>
<use href="#m11" x="792.3" y="785.7"/>
<use href="#m11" x="780.4" y="791.9"/>
<use href="#m11" x="768.5" y="797.1"/>
<use href="#m11" x="756.6" y="801.3"/>
<use href="#m11" x="744.7" y="804.9"/>
<use href="#m11" x="732.8" y="808.1"/>
<use href="#m11" x="720.8" y="810.8"/>
<use href="#m11" x="708.9" y="813.0"/>
<use href="#m11" x="697.0" y="815.3"/>
<use href="#m11" x="685.1" y="818.0"/>
<use href="#m11" x="673.2" y="820.9"/>
<use href="#m11" x="661.3" y="824.6"/>
<use href="#m11" x="649.4" y="830.3"/>
<use href="#m11" x="637.5" y="841.7"/>
<use href="#m11" x="625.6" y="854.7"/>
<use href="#m11" x="613.7" y="875.8"/>
<use href="#m11" x="601.8" y="928.6"/>
<use href="#m11" x="589.9" y="1055.5"/>
<use href="#m11" x="578.0" y="1125.6"/>
<use href="#m11" x="566.1" y="1160.9"/>
<use href="#m11" x="554.2" y="1169.7"/>
<use href="#m11" x="542.3" y="1174.7"/>
<use href="#m11" x="530.4" y="1180.1"/>
<use href="#m11" x="518.5" y="1184.9"/>
<use href="#m11" x="506.6" y="1189.0"/>
<use href="#m11" x="506.6" y="1197.5"/>
<use href="#m11" x="494.7" y="1200.5"/>
<use href="#m11" x="482.8" y="1204.8"/>
<use href="#m11" x="470.9" y="1209.4"/>
<use href="#m11" x="459.0" y="1213.4"/>
<use href="#m11" x="447.1" y="1217.0"/>
<use href="#m11" x="435.2" y="1220.5"/>
<use href="#m11" x="423.3" y="1224.0"/>
<use href="#m11" x="411.4" y="1227.6"/>
<use href="#m11" x="399.5" y="1231.2"/>
<use href="#m11" x="387.6" y="1234.6"/>
<use href="#m11" x="375.7" y="1237.7"/>
<use href="#m11" x="363.8" y="1240.6"/>
<use href="#m11" x="351.9" y="1243.6"/>
<use href="#m11" x="340.0" y="1246.5"/>
<use href="#m11" x="328.1" y="1249.5"/>
<use href="#m11" x="316.2" y="1252.5"/>
<use href="#m11" x="304.3" y="1255.4"/>
<use href="#m11" x="292.4" y="1258.3"/>
<use href="#m11" x="280.4" y="1261.3"/>
<use href="#m11" x="268.5" y="1264.7"/>
<use href="#m11" x="256.6" y="1268.3"/>
<use href="#m11" x="244.7" y="1272.0"/>
<use href="#m11" x="232.8" y="1275.3"/>
<use href="#m11" x="220.9" y="1278.4"/>
<use href="#m11" x="209.0" y="1281.3"/>
<rect x="178.4" y="762.4" width="656.4" height="534.9" fill="none" stroke="#000" stroke-width="4.0"/>
<path d="M178.4 1297.3v12M287.8 1297.3v12M397.2 1297.3v12M506.6 1297.3v12M616.0 1297.3v12M725.4 1297.3v12M834.8 1297.3v12M233.1 1297.3v7M342.5 1297.3v7M451.9 1297.3v7M561.3 1297.3v7M670.7 1297.3v7M780.1 1297.3v7M178.4 1297.3h-12M178.4 1208.1h-12M178.4 1119.0h-12M178.4 1029.8h-12M178.4 940.7h-12M178.4 851.5h-12M178.4 762.4h-12M178.4 1252.7h-7M178.4 1163.6h-7M178.4 1074.4h-7M178.4 985.3h-7M178.4 896.1h-7M178.4 807.0h-7" stroke="#000" stroke-width="3.6" fill="none"/>
<text x="178.4" y="1345.2" text-anchor="middle">-3</text>
<text x="287.8" y="1345.2" text-anchor="middle">-2</text>
<text x="397.2" y="1345.2" text-anchor="middle">-1</text>
<text x="506.6" y="1345.2" text-anchor="middle">0</text>
<text x="616.0" y="1345.2" text-anchor="middle">1</text>
<text x="725.4" y="1345.2" text-anchor="middle">2</text>
<text x="834.8" y="1345.2" text-anchor="middle">3</text>
<text x="160.5" y="1309.3" text-anchor="end">-45</text>
<text x="160.5" y="1220.1" text-anchor="end">-30</text>
<text x="160.5" y="1131.0" text-anchor="end">-15</text>
<text x="160.5" y="1041.8" text-anchor="end">0</text>
<text x="160.5" y="952.7" text-anchor="end">15</text>
<text x="160.5" y="863.5" text-anchor="end">30</text>
<text x="160.5" y="774.4" text-anchor="end">45</text>
</g>
<g style="font-family:'Liberation Sans',Arial,sans-serif;font-size:42px" fill="#000">
<polyline points="1305.4,1137.6 1312.8,1133.1 1320.2,1127.1 1327.5,1119.9 1334.9,1111.8 1342.3,1101.5 1349.6,1089.6 1357.0,1077.5 1364.4,1064.7 1371.7,1050.9 1379.1,1035.5 1386.5,1022.3 1393.8,1010.9 1401.2,1001.9 1408.6,994.5 1415.9,988.6 1423.3,983.4 1430.7,978.8 1438.1,974.7 1445.4,971.1 1452.8,967.9 1460.2,964.9 1467.5,962.2 1474.9,959.6 1482.3,957.1 1489.6,954.7 1497.0,952.5 1504.4,950.4 1511.7,948.3 1519.1,946.1 1526.5,943.9 1533.9,941.7 1541.2,939.5 1548.6,937.3 1556.0,935.1 1563.3,932.9 1570.7,930.6 1578.1,928.4 1585.4,926.3 1592.8,924.3 1600.2,922.5 1607.5,920.7 1614.9,918.9 1622.3,917.0 1629.6,915.1 1637.0,913.0 1644.4,911.0 1637.0,916.5 1629.6,921.8 1622.3,926.6 1614.9,930.5 1607.5,934.3 1600.2,938.7 1592.8,944.9 1585.4,953.1 1578.1,963.0 1570.7,976.0 1563.3,991.6 1556.0,1005.1 1548.6,1015.7 1541.2,1023.6 1533.9,1029.1 1526.5,1033.2 1519.1,1036.5 1511.7,1039.4 1504.4,1041.9 1497.0,1044.1 1489.6,1046.8 1482.3,1049.8 1474.9,1053.0 1474.9,1063.9 1467.5,1067.2 1460.2,1070.5 1452.8,1073.7 1445.4,1076.8 1438.1,1079.9 1430.7,1082.9 1423.3,1085.9 1415.9,1088.8 1408.6,1091.7 1401.2,1094.6 1393.8,1097.5 1386.5,1100.3 1379.1,1103.2 1371.7,1106.3 1364.4,1109.6 1357.0,1113.2 1349.6,1117.0 1342.3,1120.8 1334.9,1124.5 1327.5,1127.9 1320.2,1131.3 1312.8,1134.5 1305.4,1137.6" fill="none" stroke="#ff0000" stroke-width="6.5" stroke-linejoin="round"/>
<use href="#m12" x="1305.4" y="1137.6"/>
<use href="#m12" x="1312.8" y="1133.1"/>
<use href="#m12" x="1320.2" y="1127.1"/>
<use href="#m12" x="1327.5" y="1119.9"/>
<use href="#m12" x="1334.9" y="1111.8"/>
<use href="#m12" x="1342.3" y="1101.5"/>
<use href="#m12" x="1349.6" y="1089.6"/>
<use href="#m12" x="1357.0" y="1077.5"/>
<use href="#m12" x="1364.4" y="1064.7"/>
<use href="#m12" x="1371.7" y="1050.9"/>
<use href="#m12" x="1379.1" y="1035.5"/>
<use href="#m12" x="1386.5" y="1022.3"/>
<use href="#m12" x="1393.8" y="1010.9"/>
<use href="#m12" x="1401.2" y="1001.9"/>
<use href="#m12" x="1408.6" y="994.5"/>
<use href="#m12" x="1415.9" y="988.6"/>
<use href="#m12" x="1423.3" y="983.4"/>
<use href="#m12" x="1430.7" y="978.8"/>
<use href="#m12" x="1438.1" y="974.7"/>
<use href="#m12" x="1445.4" y="971.1"/>
<use href="#m12" x="1452.8" y="967.9"/>
<use href="#m12" x="1460.2" y="964.9"/>
<use href="#m12" x="1467.5" y="962.2"/>
<use href="#m12" x="1474.9" y="959.6"/>
<use href="#m12" x="1482.3" y="957.1"/>
<use href="#m12" x="1489.6" y="954.7"/>
<use href="#m12" x="1497.0" y="952.5"/>
<use href="#m12" x="1504.4" y="950.4"/>
<use href="#m12" x="1511.7" y="948.3"/>
<use href="#m12" x="1519.1" y="946.1"/>
<use href="#m12" x="1526.5" y="943.9"/>
<use href="#m12" x="1533.9" y="941.7"/>
<use href="#m12" x="1541.2" y="939.5"/>
<use href="#m12" x="1548.6" y="937.3"/>
<use href="#m12" x="1556.0" y="935.1"/>
<use href="#m12" x="1563.3" y="932.9"/>
<use href="#m12" x="1570.7" y="930.6"/>
<use href="#m12" x="1578.1" y="928.4"/>
<use href="#m12" x="1585.4" y="926.3"/>
<use href="#m12" x="1592.8" y="924.3"/>
<use href="#m12" x="1600.2" y="922.5"/>
<use href="#m12" x="1607.5" y="920.7"/>
<use href="#m12" x="1614.9" y="918.9"/>
<use href="#m12" x="1622.3" y="917.0"/>
<use href="#m12" x="1629.6" y="915.1"/>
<use href="#m12" x="1637.0" y="913.0"/>
<use href="#m12" x="1644.4" y="911.0"/>
<use href="#m12" x="1637.0" y="916.5"/>
<use href="#m12" x="1629.6" y="921.8"/>
<use href="#m12" x="1622.3" y="926.6"/>
<use href="#m12" x="1614.9" y="930.5"/>
<use href="#m12" x="1607.5" y="934.3"/>
<use href="#m12" x="1600.2" y="938.7"/>
<use href="#m12" x="1592.8" y="944.9"/>
<use href="#m12" x="1585.4" y="953.1"/>
<use href="#m12" x="1578.1" y="963.0"/>
<use href="#m12" x="1570.7" y="976.0"/>
<use href="#m12" x="1563.3" y="991.6"/>
<use href="#m12" x="1556.0" y="1005.1"/>
<use href="#m12" x="1548.6" y="1015.7"/>
<use href="#m12" x="1541.2" y="1023.6"/>
<use href="#m12" x="1533.9" y="1029.1"/>
<use href="#m12" x="1526.5" y="1033.2"/>
<use href="#m12" x="1519.1" y="1036.5"/>
<use href="#m12" x="1511.7" y="1039.4"/>
<use href="#m12" x="1504.4" y="1041.9"/>
<use href="#m12" x="1497.0" y="1044.1"/>
<use href="#m12" x="1489.6" y="1046.8"/>
<use href="#m12" x="1482.3" y="1049.8"/>
<use href="#m12" x="1474.9" y="1053.0"/>
<use href="#m12" x="1474.9" y="1063.9"/>
<use href="#m12" x="1467.5" y="1067.2"/>
<use href="#m12" x="1460.2" y="1070.5"/>
<use href="#m12" x="1452.8" y="1073.7"/>
<use href="#m12" x="1445.4" y="1076.8"/>
<use href="#m12" x="1438.1" y="1079.9"/>
<use href="#m12" x="1430.7" y="1082.9"/>
<use href="#m12" x="1423.3" y="1085.9"/>
<use href="#m12" x="1415.9" y="1088.8"/>
<use href="#m12" x="1408.6" y="1091.7"/>
<use href="#m12" x="1401.2" y="1094.6"/>
<use href="#m12" x="1393.8" y="1097.5"/>
<use href="#m12" x="1386.5" y="1100.3"/>
<use href="#m12" x="1379.1" y="1103.2"/>
<use href="#m12" x="1371.7" y="1106.3"/>
<use href="#m12" x="1364.4" y="1109.6"/>
<use href="#m12" x="1357.0" y="1113.2"/>
<use href="#m12" x="1349.6" y="1117.0"/>
<use href="#m12" x="1342.3" y="1120.8"/>
<use href="#m12" x="1334.9" y="1124.5"/>
<use href="#m12" x="1327.5" y="1127.9"/>
<use href="#m12" x="1320.2" y="1131.3"/>
<use href="#m12" x="1312.8" y="1134.5"/>
<use href="#m12" x="1305.4" y="1137.6"/>
<polyline points="1250.1,1173.6 1259.9,1164.5 1269.7,1155.6 1279.5,1147.4 1289.2,1139.4 1299.0,1129.9 1308.8,1117.7 1318.6,1106.9 1328.3,1097.2 1338.1,1081.4 1347.9,1062.6 1357.6,1037.1 1367.4,1011.0 1377.2,987.0 1387.0,969.4 1396.7,956.0 1406.5,946.6 1416.3,940.5 1426.0,935.8 1435.8,931.7 1445.6,927.8 1455.4,924.2 1465.1,920.9 1474.9,917.7 1484.7,914.5 1494.4,911.5 1504.2,908.5 1514.0,905.7 1523.8,903.1 1533.5,900.7 1543.3,898.4 1553.1,896.0 1562.8,893.5 1572.6,891.0 1582.4,888.6 1592.2,886.4 1601.9,884.4 1611.7,882.5 1621.5,880.6 1631.2,878.7 1641.0,876.6 1650.8,874.7 1660.6,872.9 1670.3,871.3 1680.1,869.8 1689.9,868.3 1699.7,867.0 1689.9,872.9 1680.1,877.7 1670.3,881.2 1660.6,883.7 1650.8,886.3 1641.0,889.6 1631.2,894.1 1621.5,900.0 1611.7,908.6 1601.9,921.9 1592.2,935.0 1582.4,954.1 1572.6,980.6 1562.8,1009.7 1553.1,1033.9 1543.3,1051.3 1533.5,1059.4 1523.8,1064.7 1514.0,1068.7 1504.2,1072.2 1494.4,1075.4 1484.7,1078.6 1474.9,1082.1 1474.9,1096.6 1465.1,1101.0 1455.4,1105.3 1445.6,1109.5 1435.8,1113.5 1426.0,1117.5 1416.3,1121.4 1406.5,1125.2 1396.7,1129.2 1387.0,1133.3 1377.2,1137.2 1367.4,1140.8 1357.6,1143.9 1347.9,1146.7 1338.1,1149.5 1328.3,1152.4 1318.6,1155.4 1308.8,1158.4 1299.0,1161.3 1289.2,1163.9 1279.5,1166.4 1269.7,1168.7 1259.9,1171.2 1250.1,1173.6" fill="none" stroke="#0000ff" stroke-width="6.5" stroke-linejoin="round"/>
<use href="#m13" x="1250.1" y="1173.6"/>
<use href="#m13" x="1259.9" y="1164.5"/>
<use href="#m13" x="1269.7" y="1155.6"/>
<use href="#m13" x="1279.5" y="1147.4"/>
<use href="#m13" x="1289.2" y="1139.4"/>
<use href="#m13" x="1299.0" y="1129.9"/>
<use href="#m13" x="1308.8" y="1117.7"/>
<use href="#m13" x="1318.6" y="1106.9"/>
<use href="#m13" x="1328.3" y="1097.2"/>
<use href="#m13" x="1338.1" y="1081.4"/>
<use href="#m13" x="1347.9" y="1062.6"/>
<use href="#m13" x="1357.6" y="1037.1"/>
<use href="#m13" x="1367.4" y="1011.0"/>
<use href="#m13" x="1377.2" y="987.0"/>
<use href="#m13" x="1387.0" y="969.4"/>
<use href="#m13" x="1396.7" y="956.0"/>
<use href="#m13" x="1406.5" y="946.6"/>
<use href="#m13" x="1416.3" y="940.5"/>
<use href="#m13" x="1426.0" y="935.8"/>
<use href="#m13" x="1435.8" y="931.7"/>
<use href="#m13" x="1445.6" y="927.8"/>
<use href="#m13" x="1455.4" y="924.2"/>
<use href="#m13" x="1465.1" y="920.9"/>
<use href="#m13" x="1474.9" y="917.7"/>
<use href="#m13" x="1484.7" y="914.5"/>
<use href="#m13" x="1494.4" y="911.5"/>
<use href="#m13" x="1504.2" y="908.5"/>
<use href="#m13" x="1514.0" y="905.7"/>
<use href="#m13" x="1523.8" y="903.1"/>
<use href="#m13" x="1533.5" y="900.7"/>
<use href="#m13" x="1543.3" y="898.4"/>
<use href="#m13" x="1553.1" y="896.0"/>
<use href="#m13" x="1562.8" y="893.5"/>
<use href="#m13" x="1572.6" y="891.0"/>
<use href="#m13" x="1582.4" y="888.6"/>
<use href="#m13" x="1592.2" y="886.4"/>
<use href="#m13" x="1601.9" y="884.4"/>
<use href="#m13" x="1611.7" y="882.5"/>
<use href="#m13" x="1621.5" y="880.6"/>
<use href="#m13" x="1631.2" y="878.7"/>
<use href="#m13" x="1641.0" y="876.6"/>
<use href="#m13" x="1650.8" y="874.7"/>
<use href="#m13" x="1660.6" y="872.9"/>
<use href="#m13" x="1670.3" y="871.3"/>
<use href="#m13" x="1680.1" y="869.8"/>
<use href="#m13" x="1689.9" y="868.3"/>
<use href="#m13" x="1699.7" y="867.0"/>
<use href="#m13" x="1689.9" y="872.9"/>
<use href="#m13" x="1680.1" y="877.7"/>
<use href="#m13" x="1670.3" y="881.2"/>
<use href="#m13" x="1660.6" y="883.7"/>
<use href="#m13" x="1650.8" y="886.3"/>
<use href="#m13" x="1641.0" y="889.6"/>
<use href="#m13" x="1631.2" y="894.1"/>
<use href="#m13" x="1621.5" y="900.0"/>
<use href="#m13" x="1611.7" y="908.6"/>
<use href="#m13" x="1601.9" y="921.9"/>
<use href="#m13" x="1592.2" y="935.0"/>
<use href="#m13" x="1582.4" y="954.1"/>
<use href="#m13" x="1572.6" y="980.6"/>
<use href="#m13" x="1562.8" y="1009.7"/>
<use href="#m13" x="1553.1" y="1033.9"/>
<use href="#m13" x="1543.3" y="1051.3"/>
<use href="#m13" x="1533.5" y="1059.4"/>
<use href="#m13" x="1523.8" y="1064.7"/>
<use href="#m13" x="1514.0" y="1068.7"/>
<use href="#m13" x="1504.2" y="1072.2"/>
<use href="#m13" x="1494.4" y="1075.4"/>
<use href="#m13" x="1484.7" y="1078.6"/>
<use href="#m13" x="1474.9" y="1082.1"/>
<use href="#m13" x="1474.9" y="1096.6"/>
<use href="#m13" x="1465.1" y="1101.0"/>
<use href="#m13" x="1455.4" y="1105.3"/>
<use href="#m13" x="1445.6" y="1109.5"/>
<use href="#m13" x="1435.8" y="1113.5"/>
<use href="#m13" x="1426.0" y="1117.5"/>
<use href="#m13" x="1416.3" y="1121.4"/>
<use href="#m13" x="1406.5" y="1125.2"/>
<use href="#m13" x="1396.7" y="1129.2"/>
<use href="#m13" x="1387.0" y="1133.3"/>
<use href="#m13" x="1377.2" y="1137.2"/>
<use href="#m13" x="1367.4" y="1140.8"/>
<use href="#m13" x="1357.6" y="1143.9"/>
<use href="#m13" x="1347.9" y="1146.7"/>
<use href="#m13" x="1338.1" y="1149.5"/>
<use href="#m13" x="1328.3" y="1152.4"/>
<use href="#m13" x="1318.6" y="1155.4"/>
<use href="#m13" x="1308.8" y="1158.4"/>
<use href="#m13" x="1299.0" y="1161.3"/>
<use href="#m13" x="1289.2" y="1163.9"/>
<use href="#m13" x="1279.5" y="1166.4"/>
<use href="#m13" x="1269.7" y="1168.7"/>
<use href="#m13" x="1259.9" y="1171.2"/>
<use href="#m13" x="1250.1" y="1173.6"/>
<polyline points="1178.3,1239.5 1191.2,1229.7 1204.1,1220.2 1217.0,1211.2 1229.9,1201.8 1242.8,1192.0 1255.7,1180.9 1268.6,1167.9 1281.5,1152.8 1294.4,1134.2 1307.3,1103.0 1320.2,1067.6 1333.0,1023.3 1345.9,983.4 1358.8,948.6 1371.7,924.0 1384.6,905.7 1397.5,894.2 1410.4,885.3 1423.3,878.2 1436.2,872.8 1449.1,868.3 1462.0,864.3 1474.9,860.7 1487.8,857.5 1500.7,854.4 1513.6,851.4 1526.5,848.3 1539.4,845.2 1552.3,842.2 1565.2,839.3 1578.1,836.5 1591.0,833.8 1603.9,831.2 1616.8,828.8 1629.6,826.4 1642.5,824.2 1655.4,822.1 1668.3,820.1 1681.2,817.9 1694.1,815.8 1707.0,813.6 1719.9,811.4 1732.8,809.3 1745.7,807.3 1758.6,805.4 1771.5,803.5 1758.6,811.0 1745.7,817.1 1732.8,821.9 1719.9,826.8 1707.0,832.8 1694.1,839.5 1681.2,845.9 1668.3,851.8 1655.4,860.0 1642.5,873.0 1629.6,891.5 1616.8,928.2 1603.9,985.9 1591.0,1039.4 1578.1,1079.9 1565.2,1102.4 1552.3,1116.6 1539.4,1124.5 1526.5,1129.7 1513.6,1133.2 1500.7,1136.4 1487.8,1139.4 1474.9,1142.1 1474.9,1162.1 1462.0,1166.6 1449.1,1170.8 1436.2,1174.5 1423.3,1177.7 1410.4,1180.8 1397.5,1184.1 1384.6,1187.4 1371.7,1190.5 1358.8,1193.3 1345.9,1195.7 1333.0,1198.3 1320.2,1201.4 1307.3,1204.7 1294.4,1208.0 1281.5,1211.2 1268.6,1214.4 1255.7,1217.8 1242.8,1221.7 1229.9,1225.7 1217.0,1229.2 1204.1,1232.3 1191.2,1235.5 1178.3,1239.5" fill="none" stroke="#000000" stroke-width="6.5" stroke-linejoin="round"/>
<use href="#m14" x="1178.3" y="1239.5"/>
<use href="#m14" x="1191.2" y="1229.7"/>
<use href="#m14" x="1204.1" y="1220.2"/>
<use href="#m14" x="1217.0" y="1211.2"/>
<use href="#m14" x="1229.9" y="1201.8"/>
<use href="#m14" x="1242.8" y="1192.0"/>
<use href="#m14" x="1255.7" y="1180.9"/>
<use href="#m14" x="1268.6" y="1167.9"/>
<use href="#m14" x="1281.5" y="1152.8"/>
<use href="#m14" x="1294.4" y="1134.2"/>
<use href="#m14" x="1307.3" y="1103.0"/>
<use href="#m14" x="1320.2" y="1067.6"/>
<use href="#m14" x="1333.0" y="1023.3"/>
<use href="#m14" x="1345.9" y="983.4"/>
<use href="#m14" x="1358.8" y="948.6"/>
<use href="#m14" x="1371.7" y="924.0"/>
<use href="#m14" x="1384.6" y="905.7"/>
<use href="#m14" x="1397.5" y="894.2"/>
<use href="#m14" x="1410.4" y="885.3"/>
<use href="#m14" x="1423.3" y="878.2"/>
<use href="#m14" x="1436.2" y="872.8"/>
<use href="#m14" x="1449.1" y="868.3"/>
<use href="#m14" x="1462.0" y="864.3"/>
<use href="#m14" x="1474.9" y="860.7"/>
<use href="#m14" x="1487.8" y="857.5"/>
<use href="#m14" x="1500.7" y="854.4"/>
<use href="#m14" x="1513.6" y="851.4"/>
<use href="#m14" x="1526.5" y="848.3"/>
<use href="#m14" x="1539.4" y="845.2"/>
<use href="#m14" x="1552.3" y="842.2"/>
<use href="#m14" x="1565.2" y="839.3"/>
<use href="#m14" x="1578.1" y="836.5"/>
<use href="#m14" x="1591.0" y="833.8"/>
<use href="#m14" x="1603.9" y="831.2"/>
<use href="#m14" x="1616.8" y="828.8"/>
<use href="#m14" x="1629.6" y="826.4"/>
<use href="#m14" x="1642.5" y="824.2"/>
<use href="#m14" x="1655.4" y="822.1"/>
<use href="#m14" x="1668.3" y="820.1"/>
<use href="#m14" x="1681.2" y="817.9"/>
<use href="#m14" x="1694.1" y="815.8"/>
<use href="#m14" x="1707.0" y="813.6"/>
<use href="#m14" x="1719.9" y="811.4"/>
<use href="#m14" x="1732.8" y="809.3"/>
<use href="#m14" x="1745.7" y="807.3"/>
<use href="#m14" x="1758.6" y="805.4"/>
<use href="#m14" x="1771.5" y="803.5"/>
<use href="#m14" x="1758.6" y="811.0"/>
<use href="#m14" x="1745.7" y="817.1"/>
<use href="#m14" x="1732.8" y="821.9"/>
<use href="#m14" x="1719.9" y="826.8"/>
<use href="#m14" x="1707.0" y="832.8"/>
<use href="#m14" x="1694.1" y="839.5"/>
<use href="#m14" x="1681.2" y="845.9"/>
<use href="#m14" x="1668.3" y="851.8"/>
<use href="#m14" x="1655.4" y="860.0"/>
<use href="#m14" x="1642.5" y="873.0"/>
<use href="#m14" x="1629.6" y="891.5"/>
<use href="#m14" x="1616.8" y="928.2"/>
<use href="#m14" x="1603.9" y="985.9"/>
<use href="#m14" x="1591.0" y="1039.4"/>
<use href="#m14" x="1578.1" y="1079.9"/>
<use href="#m14" x="1565.2" y="1102.4"/>
<use href="#m14" x="1552.3" y="1116.6"/>
<use href="#m14" x="1539.4" y="1124.5"/>
<use href="#m14" x="1526.5" y="1129.7"/>
<use href="#m14" x="1513.6" y="1133.2"/>
<use href="#m14" x="1500.7" y="1136.4"/>
<use href="#m14" x="1487.8" y="1139.4"/>
<use href="#m14" x="1474.9" y="1142.1"/>
<use href="#m14" x="1474.9" y="1162.1"/>
<use href="#m14" x="1462.0" y="1166.6"/>
<use href="#m14" x="1449.1" y="1170.8"/>
<use href="#m14" x="1436.2" y="1174.5"/>
<use href="#m14" x="1423.3" y="1177.7"/>
<use href="#m14" x="1410.4" y="1180.8"/>
<use href="#m14" x="1397.5" y="1184.1"/>
<use href="#m14" x="1384.6" y="1187.4"/>
<use href="#m14" x="1371.7" y="1190.5"/>
<use href="#m14" x="1358.8" y="1193.3"/>
<use href="#m14" x="1345.9" y="1195.7"/>
<use href="#m14" x="1333.0" y="1198.3"/>
<use href="#m14" x="1320.2" y="1201.4"/>
<use href="#m14" x="1307.3" y="1204.7"/>
<use href="#m14" x="1294.4" y="1208.0"/>
<use href="#m14" x="1281.5" y="1211.2"/>
<use href="#m14" x="1268.6" y="1214.4"/>
<use href="#m14" x="1255.7" y="1217.8"/>
<use href="#m14" x="1242.8" y="1221.7"/>
<use href="#m14" x="1229.9" y="1225.7"/>
<use href="#m14" x="1217.0" y="1229.2"/>
<use href="#m14" x="1204.1" y="1232.3"/>
<use href="#m14" x="1191.2" y="1235.5"/>
<use href="#m14" x="1178.3" y="1239.5"/>
<rect x="1554.3" y="1135.8" width="253" height="160" fill="#fff" stroke="#444" stroke-width="2"/>
<path d="M1564.6 1165.4H1641.5" stroke="#ff0000" stroke-width="7"/>
<use href="#m15" x="1603" y="1165.4"/>
<text x="1647" y="1175.4" style="font-family:'Liberation Sans',Arial,sans-serif;font-size:31px">S<tspan dy="14" style="font-size:28px">o</tspan><tspan dy="-14">- 2.2 nm</tspan></text>
<path d="M1564.6 1215.4H1641.5" stroke="#0000ff" stroke-width="7"/>
<use href="#m16" x="1603" y="1215.4"/>
<text x="1647" y="1225.4" style="font-family:'Liberation Sans',Arial,sans-serif;font-size:31px">S<tspan dy="14" style="font-size:28px">o</tspan><tspan dy="-14">- 3 nm</tspan></text>
<path d="M1564.6 1264.6H1641.5" stroke="#000000" stroke-width="7"/>
<use href="#m17" x="1603" y="1264.6"/>
<text x="1647" y="1274.6" style="font-family:'Liberation Sans',Arial,sans-serif;font-size:31px">S<tspan dy="14" style="font-size:28px">o</tspan><tspan dy="-14">- 4 nm</tspan></text>
<rect x="1143.3" y="745.5" width="663.2" height="548.9" fill="none" stroke="#000" stroke-width="4.0"/>
<path d="M1198.6 1294.4v12M1290.7 1294.4v12M1382.8 1294.4v12M1474.9 1294.4v12M1567.0 1294.4v12M1659.1 1294.4v12M1751.2 1294.4v12M1152.5 1294.4v7M1244.6 1294.4v7M1336.7 1294.4v7M1428.8 1294.4v7M1521.0 1294.4v7M1613.1 1294.4v7M1705.2 1294.4v7M1797.3 1294.4v7M1143.3 1255.2h-12M1143.3 1176.8h-12M1143.3 1098.4h-12M1143.3 1020.0h-12M1143.3 941.5h-12M1143.3 863.1h-12M1143.3 784.7h-12M1143.3 1294.4h-7M1143.3 1216.0h-7M1143.3 1137.6h-7M1143.3 1059.2h-7M1143.3 980.7h-7M1143.3 902.3h-7M1143.3 823.9h-7M1143.3 745.5h-7" stroke="#000" stroke-width="3.6" fill="none"/>
<text x="1198.6" y="1344.0" text-anchor="middle">-1.5</text>
<text x="1290.7" y="1344.0" text-anchor="middle">-1.0</text>
<text x="1382.8" y="1344.0" text-anchor="middle">-0.5</text>
<text x="1474.9" y="1344.0" text-anchor="middle">0.0</text>
<text x="1567.0" y="1344.0" text-anchor="middle">0.5</text>
<text x="1659.1" y="1344.0" text-anchor="middle">1.0</text>
<text x="1751.2" y="1344.0" text-anchor="middle">1.5</text>
<text x="1127.5" y="1268.2" text-anchor="end">-30</text>
<text x="1127.5" y="1189.8" text-anchor="end">-20</text>
<text x="1127.5" y="1111.4" text-anchor="end">-10</text>
<text x="1127.5" y="1033.0" text-anchor="end">0</text>
<text x="1127.5" y="954.5" text-anchor="end">10</text>
<text x="1127.5" y="876.1" text-anchor="end">20</text>
<text x="1127.5" y="797.7" text-anchor="end">30</text>
</g>
<text transform="translate(75.5,419.5) rotate(-90)" style="font-family:'Liberation Sans',Arial,sans-serif;font-size:42.5px">P<tspan dy="14.5" style="font-size:25px">r</tspan><tspan dy="-14.5">(µC/cm</tspan><tspan dy="-21.5" style="font-size:27px">2</tspan><tspan dy="21.5">)</tspan></text>
<text transform="translate(1038.0,417.5) rotate(-90)" style="font-family:'Liberation Sans',Arial,sans-serif;font-size:42.5px">P<tspan dy="14.5" style="font-size:25px">r</tspan><tspan dy="-14.5">(µC/cm</tspan><tspan dy="-21.5" style="font-size:27px">2</tspan><tspan dy="21.5">)</tspan></text>
<text transform="translate(74.5,1163.5) rotate(-90)" style="font-family:'Liberation Sans',Arial,sans-serif;font-size:42.5px">P<tspan dy="14.5" style="font-size:25px">r</tspan><tspan dy="-14.5">(µC/cm</tspan><tspan dy="-21.5" style="font-size:27px">2</tspan><tspan dy="21.5">)</tspan></text>
<text transform="translate(1039.0,1157.0) rotate(-90)" style="font-family:'Liberation Sans',Arial,sans-serif;font-size:42.5px">P<tspan dy="14.5" style="font-size:25px">r</tspan><tspan dy="-14.5">(µC/cm</tspan><tspan dy="-21.5" style="font-size:27px">2</tspan><tspan dy="21.5">)</tspan></text>
<text x="511.2" y="667.0" text-anchor="middle" style="font-family:'Liberation Sans',Arial,sans-serif;font-size:41px">Voltage (V)</text>
<text x="1460.7" y="665.5" text-anchor="middle" style="font-family:'Liberation Sans',Arial,sans-serif;font-size:41px">Voltage (V)</text>
<text x="506.6" y="1410.0" text-anchor="middle" style="font-family:'Liberation Sans',Arial,sans-serif;font-size:41px">Voltage (V)</text>
<text x="1474.4" y="1409.0" text-anchor="middle" style="font-family:'Liberation Sans',Arial,sans-serif;font-size:41px">Voltage (V)</text>
<text x="9.0" y="74.5" style="font-family:'Liberation Serif','Times New Roman',serif;font-size:52px">(a)</text>
<text x="993.0" y="74.5" style="font-family:'Liberation Serif','Times New Roman',serif;font-size:52px">(b)</text>
<text x="9.0" y="824.5" style="font-family:'Liberation Serif','Times New Roman',serif;font-size:52px">(c)</text>
<text x="994.0" y="824.5" style="font-family:'Liberation Serif','Times New Roman',serif;font-size:52px">(d)</text>
<rect x="192.2" y="30.3" width="187.8" height="58.4" fill="#fff" stroke="#444" stroke-width="2"/><text transform="translate(205.5,70.0) scale(0.92,1)" style="font-family:'Liberation Sans',Arial,sans-serif;font-size:37px;font-weight:bold">S<tspan dy="14.5" style="font-size:31px">o</tspan><tspan dy="-14.5">- 2.2 nm</tspan></text>
<rect x="1151.6" y="26.1" width="155.6" height="58.9" fill="#fff" stroke="#444" stroke-width="2"/><text transform="translate(1164.0,66.8) scale(0.92,1)" style="font-family:'Liberation Sans',Arial,sans-serif;font-size:37px;font-weight:bold">S<tspan dy="14.5" style="font-size:31px">o</tspan><tspan dy="-14.5">- 3 nm</tspan></text>
<rect x="191.0" y="777.0" width="159.2" height="57.4" fill="#fff" stroke="#444" stroke-width="2"/><text transform="translate(203.5,817.0) scale(0.92,1)" style="font-family:'Liberation Sans',Arial,sans-serif;font-size:37px;font-weight:bold">S<tspan dy="14.5" style="font-size:31px">o</tspan><tspan dy="-14.5">- 4 nm</tspan></text>
<rect x="1155.8" y="761.4" width="190.8" height="49.3" fill="#fff" stroke="#444" stroke-width="2"/><text x="1166" y="800" style="font-family:'Liberation Sans',Arial,sans-serif;font-size:35px;font-weight:bold">@ 4MV/cm</text></svg></div></body></html>
